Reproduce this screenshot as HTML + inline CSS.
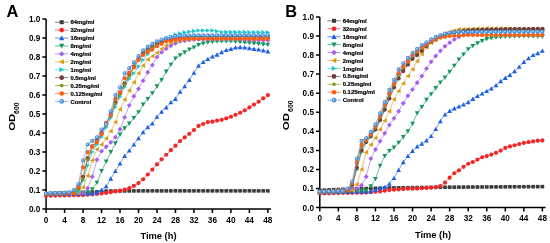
<!DOCTYPE html>
<html><head><meta charset="utf-8"><style>
html,body{margin:0;padding:0;background:#fff;}
body{width:550px;height:243px;overflow:hidden;}
svg{display:block;font-family:"Liberation Sans", sans-serif;filter:blur(0.3px);}
</style></head><body>
<svg width="550" height="243" viewBox="0 0 550 243">
<rect width="550" height="243" fill="#fff"/>
<text x="6.6" y="16.6" font-size="16.4" font-weight="bold">A</text>
<path d="M46.10,19.10V209.10H271.06" fill="none" stroke="#000" stroke-width="1.5"/>
<path d="M42.30,209.10H46.10M42.30,190.10H46.10M42.30,171.10H46.10M42.30,152.10H46.10M42.30,133.10H46.10M42.30,114.10H46.10M42.30,95.10H46.10M42.30,76.10H46.10M42.30,57.10H46.10M42.30,38.10H46.10M42.30,19.10H46.10M46.10,209.10V212.90M64.58,209.10V212.90M83.06,209.10V212.90M101.54,209.10V212.90M120.02,209.10V212.90M138.50,209.10V212.90M156.98,209.10V212.90M175.46,209.10V212.90M193.94,209.10V212.90M212.42,209.10V212.90M230.90,209.10V212.90M249.38,209.10V212.90M267.86,209.10V212.90" fill="none" stroke="#000" stroke-width="1.5"/>
<text x="40.30" y="212.00" font-size="8.2" font-weight="bold" text-anchor="end">0.0</text>
<text x="40.30" y="193.00" font-size="8.2" font-weight="bold" text-anchor="end">0.1</text>
<text x="40.30" y="174.00" font-size="8.2" font-weight="bold" text-anchor="end">0.2</text>
<text x="40.30" y="155.00" font-size="8.2" font-weight="bold" text-anchor="end">0.3</text>
<text x="40.30" y="136.00" font-size="8.2" font-weight="bold" text-anchor="end">0.4</text>
<text x="40.30" y="117.00" font-size="8.2" font-weight="bold" text-anchor="end">0.5</text>
<text x="40.30" y="98.00" font-size="8.2" font-weight="bold" text-anchor="end">0.6</text>
<text x="40.30" y="79.00" font-size="8.2" font-weight="bold" text-anchor="end">0.7</text>
<text x="40.30" y="60.00" font-size="8.2" font-weight="bold" text-anchor="end">0.8</text>
<text x="40.30" y="41.00" font-size="8.2" font-weight="bold" text-anchor="end">0.9</text>
<text x="40.30" y="22.00" font-size="8.2" font-weight="bold" text-anchor="end">1.0</text>
<text x="46.10" y="222.70" font-size="8.2" font-weight="bold" text-anchor="middle">0</text>
<text x="64.58" y="222.70" font-size="8.2" font-weight="bold" text-anchor="middle">4</text>
<text x="83.06" y="222.70" font-size="8.2" font-weight="bold" text-anchor="middle">8</text>
<text x="101.54" y="222.70" font-size="8.2" font-weight="bold" text-anchor="middle">12</text>
<text x="120.02" y="222.70" font-size="8.2" font-weight="bold" text-anchor="middle">16</text>
<text x="138.50" y="222.70" font-size="8.2" font-weight="bold" text-anchor="middle">20</text>
<text x="156.98" y="222.70" font-size="8.2" font-weight="bold" text-anchor="middle">24</text>
<text x="175.46" y="222.70" font-size="8.2" font-weight="bold" text-anchor="middle">28</text>
<text x="193.94" y="222.70" font-size="8.2" font-weight="bold" text-anchor="middle">32</text>
<text x="212.42" y="222.70" font-size="8.2" font-weight="bold" text-anchor="middle">36</text>
<text x="230.90" y="222.70" font-size="8.2" font-weight="bold" text-anchor="middle">40</text>
<text x="249.38" y="222.70" font-size="8.2" font-weight="bold" text-anchor="middle">44</text>
<text x="267.86" y="222.70" font-size="8.2" font-weight="bold" text-anchor="middle">48</text>
<text x="158.50" y="239.20" font-size="9.3" font-weight="bold" text-anchor="middle">Time (h)</text>
<text transform="translate(15.00,130.80) rotate(-90) scale(1.17,1)" font-size="9.8" font-weight="bold">OD</text>
<text transform="translate(19.30,113.90) rotate(-90)" font-size="6.9" font-weight="bold">600</text>
<path d="M55.00,22.20H68.40" stroke="#3c3c3c" stroke-width="0.65"/>
<rect x="59.68" y="20.18" width="4.03" height="4.03" fill="#3c3c3c"/>
<text x="70.40" y="24.30" font-size="5.9" font-weight="bold" stroke="#000" stroke-width="0.2">64mg/ml</text>
<path d="M55.00,30.12H68.40" stroke="#f52525" stroke-width="0.65"/>
<circle cx="61.70" cy="30.12" r="2.35" fill="#f52525"/>
<text x="70.40" y="32.22" font-size="5.9" font-weight="bold" stroke="#000" stroke-width="0.2">32mg/ml</text>
<path d="M55.00,38.04H68.40" stroke="#1c5ee6" stroke-width="0.65"/>
<path d="M61.70,35.41L64.33,40.28L59.07,40.28Z" fill="#1c5ee6"/>
<text x="70.40" y="40.14" font-size="5.9" font-weight="bold" stroke="#000" stroke-width="0.2">16mg/ml</text>
<path d="M55.00,45.96H68.40" stroke="#14965a" stroke-width="0.65"/>
<path d="M61.70,48.59L64.33,43.72L59.07,43.72Z" fill="#14965a"/>
<text x="70.40" y="48.06" font-size="5.9" font-weight="bold" stroke="#000" stroke-width="0.2">8mg/ml</text>
<path d="M55.00,53.88H68.40" stroke="#a65ef0" stroke-width="0.65"/>
<path d="M61.70,51.14L64.44,53.88L61.70,56.62L58.96,53.88Z" fill="#a65ef0"/>
<text x="70.40" y="55.98" font-size="5.9" font-weight="bold" stroke="#000" stroke-width="0.2">4mg/ml</text>
<path d="M55.00,61.80H68.40" stroke="#d99c14" stroke-width="0.65"/>
<path d="M59.07,61.80L63.94,59.17L63.94,64.43Z" fill="#d99c14"/>
<text x="70.40" y="63.90" font-size="5.9" font-weight="bold" stroke="#000" stroke-width="0.2">2mg/ml</text>
<path d="M55.00,69.72H68.40" stroke="#20c6cf" stroke-width="0.65"/>
<path d="M64.33,69.72L59.46,67.09L59.46,72.35Z" fill="#20c6cf"/>
<text x="70.40" y="71.82" font-size="5.9" font-weight="bold" stroke="#000" stroke-width="0.2">1mg/ml</text>
<path d="M55.00,77.64H68.40" stroke="#6f3b3b" stroke-width="0.65"/>
<circle cx="61.70" cy="77.64" r="2.35" fill="#6f3b3b"/>
<text x="70.40" y="79.74" font-size="5.9" font-weight="bold" stroke="#000" stroke-width="0.2">0.5mg/ml</text>
<path d="M55.00,85.56H68.40" stroke="#7f8e1c" stroke-width="0.65"/>
<circle cx="61.70" cy="85.56" r="1.79" fill="#7f8e1c"/>
<text x="70.40" y="87.66" font-size="5.9" font-weight="bold" stroke="#000" stroke-width="0.2">0.25mg/ml</text>
<path d="M55.00,93.48H68.40" stroke="#ff5c12" stroke-width="0.65"/>
<circle cx="61.70" cy="93.48" r="2.35" fill="#ff5c12"/>
<text x="70.40" y="95.58" font-size="5.9" font-weight="bold" stroke="#000" stroke-width="0.2">0.125mg/ml</text>
<path d="M55.00,101.40H68.40" stroke="#4a8edc" stroke-width="0.65"/>
<circle cx="61.70" cy="101.40" r="2.35" fill="#4a8edc"/><circle cx="61.20" cy="101.01" r="0.95" fill="#b4d4f4"/>
<text x="70.40" y="103.50" font-size="5.9" font-weight="bold" stroke="#000" stroke-width="0.2">Control</text>
<path d="M46.10,193.90L50.72,193.76L55.34,193.61L59.96,193.47L64.58,193.33L69.20,193.19L73.82,193.04L78.44,192.90L83.06,192.76L87.68,192.42L92.30,192.08L96.92,191.73L101.54,191.39L106.16,191.05L110.78,191.02L115.40,191.00L120.02,190.97L124.64,190.94L129.26,190.91L133.88,190.89L138.50,190.86L143.12,190.86L147.74,190.86L152.36,190.86L156.98,190.86L161.60,190.86L166.22,190.86L170.84,190.86L175.46,190.86L180.08,190.86L184.70,190.86L189.32,190.86L193.94,190.86L198.56,190.86L203.18,190.86L207.80,190.86L212.42,190.86L217.04,190.86L221.66,190.86L226.28,190.86L230.90,190.86L235.52,190.86L240.14,190.86L244.76,190.86L249.38,190.86L254.00,190.86L258.62,190.86L263.24,190.86L267.86,190.86" fill="none" stroke="#3c3c3c" stroke-width="0.6"/>
<rect x="44.30" y="192.10" width="3.60" height="3.60" fill="#3c3c3c"/><rect x="48.92" y="191.96" width="3.60" height="3.60" fill="#3c3c3c"/><rect x="53.54" y="191.81" width="3.60" height="3.60" fill="#3c3c3c"/><rect x="58.16" y="191.67" width="3.60" height="3.60" fill="#3c3c3c"/><rect x="62.78" y="191.53" width="3.60" height="3.60" fill="#3c3c3c"/><rect x="67.40" y="191.39" width="3.60" height="3.60" fill="#3c3c3c"/><rect x="72.02" y="191.24" width="3.60" height="3.60" fill="#3c3c3c"/><rect x="76.64" y="191.10" width="3.60" height="3.60" fill="#3c3c3c"/><rect x="81.26" y="190.96" width="3.60" height="3.60" fill="#3c3c3c"/><rect x="85.88" y="190.62" width="3.60" height="3.60" fill="#3c3c3c"/><rect x="90.50" y="190.28" width="3.60" height="3.60" fill="#3c3c3c"/><rect x="95.12" y="189.93" width="3.60" height="3.60" fill="#3c3c3c"/><rect x="99.74" y="189.59" width="3.60" height="3.60" fill="#3c3c3c"/><rect x="104.36" y="189.25" width="3.60" height="3.60" fill="#3c3c3c"/><rect x="108.98" y="189.22" width="3.60" height="3.60" fill="#3c3c3c"/><rect x="113.60" y="189.20" width="3.60" height="3.60" fill="#3c3c3c"/><rect x="118.22" y="189.17" width="3.60" height="3.60" fill="#3c3c3c"/><rect x="122.84" y="189.14" width="3.60" height="3.60" fill="#3c3c3c"/><rect x="127.46" y="189.11" width="3.60" height="3.60" fill="#3c3c3c"/><rect x="132.08" y="189.09" width="3.60" height="3.60" fill="#3c3c3c"/><rect x="136.70" y="189.06" width="3.60" height="3.60" fill="#3c3c3c"/><rect x="141.32" y="189.06" width="3.60" height="3.60" fill="#3c3c3c"/><rect x="145.94" y="189.06" width="3.60" height="3.60" fill="#3c3c3c"/><rect x="150.56" y="189.06" width="3.60" height="3.60" fill="#3c3c3c"/><rect x="155.18" y="189.06" width="3.60" height="3.60" fill="#3c3c3c"/><rect x="159.80" y="189.06" width="3.60" height="3.60" fill="#3c3c3c"/><rect x="164.42" y="189.06" width="3.60" height="3.60" fill="#3c3c3c"/><rect x="169.04" y="189.06" width="3.60" height="3.60" fill="#3c3c3c"/><rect x="173.66" y="189.06" width="3.60" height="3.60" fill="#3c3c3c"/><rect x="178.28" y="189.06" width="3.60" height="3.60" fill="#3c3c3c"/><rect x="182.90" y="189.06" width="3.60" height="3.60" fill="#3c3c3c"/><rect x="187.52" y="189.06" width="3.60" height="3.60" fill="#3c3c3c"/><rect x="192.14" y="189.06" width="3.60" height="3.60" fill="#3c3c3c"/><rect x="196.76" y="189.06" width="3.60" height="3.60" fill="#3c3c3c"/><rect x="201.38" y="189.06" width="3.60" height="3.60" fill="#3c3c3c"/><rect x="206.00" y="189.06" width="3.60" height="3.60" fill="#3c3c3c"/><rect x="210.62" y="189.06" width="3.60" height="3.60" fill="#3c3c3c"/><rect x="215.24" y="189.06" width="3.60" height="3.60" fill="#3c3c3c"/><rect x="219.86" y="189.06" width="3.60" height="3.60" fill="#3c3c3c"/><rect x="224.48" y="189.06" width="3.60" height="3.60" fill="#3c3c3c"/><rect x="229.10" y="189.06" width="3.60" height="3.60" fill="#3c3c3c"/><rect x="233.72" y="189.06" width="3.60" height="3.60" fill="#3c3c3c"/><rect x="238.34" y="189.06" width="3.60" height="3.60" fill="#3c3c3c"/><rect x="242.96" y="189.06" width="3.60" height="3.60" fill="#3c3c3c"/><rect x="247.58" y="189.06" width="3.60" height="3.60" fill="#3c3c3c"/><rect x="252.20" y="189.06" width="3.60" height="3.60" fill="#3c3c3c"/><rect x="256.82" y="189.06" width="3.60" height="3.60" fill="#3c3c3c"/><rect x="261.44" y="189.06" width="3.60" height="3.60" fill="#3c3c3c"/><rect x="266.06" y="189.06" width="3.60" height="3.60" fill="#3c3c3c"/>
<path d="M46.10,195.80L50.72,195.70L55.34,195.61L59.96,195.51L64.58,195.42L69.20,195.32L73.82,195.23L78.44,195.13L83.06,195.04L87.68,194.66L92.30,194.28L96.92,193.90L101.54,193.52L106.16,192.95L110.78,192.19L115.40,191.43L120.02,190.67L124.64,189.72L129.26,188.20L133.88,185.92L138.50,183.07L143.12,179.27L147.74,174.52L152.36,169.58L156.98,164.45L161.60,159.32L166.22,154.76L170.84,150.20L175.46,145.64L180.08,141.08L184.70,137.47L189.32,133.86L193.94,130.06L198.56,125.88L203.18,123.98L207.80,122.08L212.42,121.70L217.04,120.56L221.66,119.80L226.28,118.28L230.90,116.76L235.52,114.86L240.14,112.77L244.76,110.30L249.38,107.45L254.00,104.60L258.62,101.75L263.24,98.33L267.86,95.10" fill="none" stroke="#f52525" stroke-width="0.6"/>
<circle cx="46.10" cy="195.80" r="2.10" fill="#f52525"/><circle cx="50.72" cy="195.70" r="2.10" fill="#f52525"/><circle cx="55.34" cy="195.61" r="2.10" fill="#f52525"/><circle cx="59.96" cy="195.51" r="2.10" fill="#f52525"/><circle cx="64.58" cy="195.42" r="2.10" fill="#f52525"/><circle cx="69.20" cy="195.32" r="2.10" fill="#f52525"/><circle cx="73.82" cy="195.23" r="2.10" fill="#f52525"/><circle cx="78.44" cy="195.13" r="2.10" fill="#f52525"/><circle cx="83.06" cy="195.04" r="2.10" fill="#f52525"/><circle cx="87.68" cy="194.66" r="2.10" fill="#f52525"/><circle cx="92.30" cy="194.28" r="2.10" fill="#f52525"/><circle cx="96.92" cy="193.90" r="2.10" fill="#f52525"/><circle cx="101.54" cy="193.52" r="2.10" fill="#f52525"/><circle cx="106.16" cy="192.95" r="2.10" fill="#f52525"/><circle cx="110.78" cy="192.19" r="2.10" fill="#f52525"/><circle cx="115.40" cy="191.43" r="2.10" fill="#f52525"/><circle cx="120.02" cy="190.67" r="2.10" fill="#f52525"/><circle cx="124.64" cy="189.72" r="2.10" fill="#f52525"/><circle cx="129.26" cy="188.20" r="2.10" fill="#f52525"/><circle cx="133.88" cy="185.92" r="2.10" fill="#f52525"/><circle cx="138.50" cy="183.07" r="2.10" fill="#f52525"/><circle cx="143.12" cy="179.27" r="2.10" fill="#f52525"/><circle cx="147.74" cy="174.52" r="2.10" fill="#f52525"/><circle cx="152.36" cy="169.58" r="2.10" fill="#f52525"/><circle cx="156.98" cy="164.45" r="2.10" fill="#f52525"/><circle cx="161.60" cy="159.32" r="2.10" fill="#f52525"/><circle cx="166.22" cy="154.76" r="2.10" fill="#f52525"/><circle cx="170.84" cy="150.20" r="2.10" fill="#f52525"/><circle cx="175.46" cy="145.64" r="2.10" fill="#f52525"/><circle cx="180.08" cy="141.08" r="2.10" fill="#f52525"/><circle cx="184.70" cy="137.47" r="2.10" fill="#f52525"/><circle cx="189.32" cy="133.86" r="2.10" fill="#f52525"/><circle cx="193.94" cy="130.06" r="2.10" fill="#f52525"/><circle cx="198.56" cy="125.88" r="2.10" fill="#f52525"/><circle cx="203.18" cy="123.98" r="2.10" fill="#f52525"/><circle cx="207.80" cy="122.08" r="2.10" fill="#f52525"/><circle cx="212.42" cy="121.70" r="2.10" fill="#f52525"/><circle cx="217.04" cy="120.56" r="2.10" fill="#f52525"/><circle cx="221.66" cy="119.80" r="2.10" fill="#f52525"/><circle cx="226.28" cy="118.28" r="2.10" fill="#f52525"/><circle cx="230.90" cy="116.76" r="2.10" fill="#f52525"/><circle cx="235.52" cy="114.86" r="2.10" fill="#f52525"/><circle cx="240.14" cy="112.77" r="2.10" fill="#f52525"/><circle cx="244.76" cy="110.30" r="2.10" fill="#f52525"/><circle cx="249.38" cy="107.45" r="2.10" fill="#f52525"/><circle cx="254.00" cy="104.60" r="2.10" fill="#f52525"/><circle cx="258.62" cy="101.75" r="2.10" fill="#f52525"/><circle cx="263.24" cy="98.33" r="2.10" fill="#f52525"/><circle cx="267.86" cy="95.10" r="2.10" fill="#f52525"/>
<path d="M46.10,193.90L50.72,193.86L55.34,193.82L59.96,193.79L64.58,193.75L69.20,193.71L73.82,193.67L78.44,193.63L83.06,193.60L87.68,193.56L92.30,193.52L96.92,192.38L101.54,190.10L106.16,186.30L110.78,178.70L115.40,171.10L120.02,163.50L124.64,155.90L129.26,150.58L133.88,144.50L138.50,138.23L143.12,132.15L147.74,127.21L152.36,123.60L156.98,116.76L161.60,111.82L166.22,107.45L170.84,102.32L175.46,98.90L180.08,91.87L184.70,86.36L189.32,79.90L193.94,72.87L198.56,65.65L203.18,62.04L207.80,59.00L212.42,56.53L217.04,54.63L221.66,52.16L226.28,50.07L230.90,48.93L235.52,47.60L240.14,47.22L244.76,47.60L249.38,48.17L254.00,48.93L258.62,49.50L263.24,50.45L267.86,51.40" fill="none" stroke="#1c5ee6" stroke-width="0.6"/>
<path d="M46.10,191.55L48.45,195.90L43.75,195.90Z" fill="#1c5ee6"/><path d="M50.72,191.51L53.07,195.86L48.37,195.86Z" fill="#1c5ee6"/><path d="M55.34,191.47L57.69,195.82L52.99,195.82Z" fill="#1c5ee6"/><path d="M59.96,191.44L62.31,195.78L57.61,195.78Z" fill="#1c5ee6"/><path d="M64.58,191.40L66.93,195.75L62.23,195.75Z" fill="#1c5ee6"/><path d="M69.20,191.36L71.55,195.71L66.85,195.71Z" fill="#1c5ee6"/><path d="M73.82,191.32L76.17,195.67L71.47,195.67Z" fill="#1c5ee6"/><path d="M78.44,191.28L80.79,195.63L76.09,195.63Z" fill="#1c5ee6"/><path d="M83.06,191.25L85.41,195.59L80.71,195.59Z" fill="#1c5ee6"/><path d="M87.68,191.21L90.03,195.56L85.33,195.56Z" fill="#1c5ee6"/><path d="M92.30,191.17L94.65,195.52L89.95,195.52Z" fill="#1c5ee6"/><path d="M96.92,190.03L99.27,194.38L94.57,194.38Z" fill="#1c5ee6"/><path d="M101.54,187.75L103.89,192.10L99.19,192.10Z" fill="#1c5ee6"/><path d="M106.16,183.95L108.51,188.30L103.81,188.30Z" fill="#1c5ee6"/><path d="M110.78,176.35L113.13,180.70L108.43,180.70Z" fill="#1c5ee6"/><path d="M115.40,168.75L117.75,173.10L113.05,173.10Z" fill="#1c5ee6"/><path d="M120.02,161.15L122.37,165.50L117.67,165.50Z" fill="#1c5ee6"/><path d="M124.64,153.55L126.99,157.90L122.29,157.90Z" fill="#1c5ee6"/><path d="M129.26,148.23L131.61,152.58L126.91,152.58Z" fill="#1c5ee6"/><path d="M133.88,142.15L136.23,146.50L131.53,146.50Z" fill="#1c5ee6"/><path d="M138.50,135.88L140.85,140.23L136.15,140.23Z" fill="#1c5ee6"/><path d="M143.12,129.80L145.47,134.15L140.77,134.15Z" fill="#1c5ee6"/><path d="M147.74,124.86L150.09,129.21L145.39,129.21Z" fill="#1c5ee6"/><path d="M152.36,121.25L154.71,125.60L150.01,125.60Z" fill="#1c5ee6"/><path d="M156.98,114.41L159.33,118.76L154.63,118.76Z" fill="#1c5ee6"/><path d="M161.60,109.47L163.95,113.82L159.25,113.82Z" fill="#1c5ee6"/><path d="M166.22,105.10L168.57,109.45L163.87,109.45Z" fill="#1c5ee6"/><path d="M170.84,99.97L173.19,104.32L168.49,104.32Z" fill="#1c5ee6"/><path d="M175.46,96.55L177.81,100.90L173.11,100.90Z" fill="#1c5ee6"/><path d="M180.08,89.52L182.43,93.87L177.73,93.87Z" fill="#1c5ee6"/><path d="M184.70,84.01L187.05,88.36L182.35,88.36Z" fill="#1c5ee6"/><path d="M189.32,77.55L191.67,81.90L186.97,81.90Z" fill="#1c5ee6"/><path d="M193.94,70.52L196.29,74.87L191.59,74.87Z" fill="#1c5ee6"/><path d="M198.56,63.30L200.91,67.65L196.21,67.65Z" fill="#1c5ee6"/><path d="M203.18,59.69L205.53,64.04L200.83,64.04Z" fill="#1c5ee6"/><path d="M207.80,56.65L210.15,61.00L205.45,61.00Z" fill="#1c5ee6"/><path d="M212.42,54.18L214.77,58.53L210.07,58.53Z" fill="#1c5ee6"/><path d="M217.04,52.28L219.39,56.63L214.69,56.63Z" fill="#1c5ee6"/><path d="M221.66,49.81L224.01,54.16L219.31,54.16Z" fill="#1c5ee6"/><path d="M226.28,47.72L228.63,52.07L223.93,52.07Z" fill="#1c5ee6"/><path d="M230.90,46.58L233.25,50.93L228.55,50.93Z" fill="#1c5ee6"/><path d="M235.52,45.25L237.87,49.60L233.17,49.60Z" fill="#1c5ee6"/><path d="M240.14,44.87L242.49,49.22L237.79,49.22Z" fill="#1c5ee6"/><path d="M244.76,45.25L247.11,49.60L242.41,49.60Z" fill="#1c5ee6"/><path d="M249.38,45.82L251.73,50.17L247.03,50.17Z" fill="#1c5ee6"/><path d="M254.00,46.58L256.35,50.93L251.65,50.93Z" fill="#1c5ee6"/><path d="M258.62,47.15L260.97,51.50L256.27,51.50Z" fill="#1c5ee6"/><path d="M263.24,48.10L265.59,52.45L260.89,52.45Z" fill="#1c5ee6"/><path d="M267.86,49.05L270.21,53.40L265.51,53.40Z" fill="#1c5ee6"/>
<path d="M46.10,193.90L50.72,193.73L55.34,193.56L59.96,193.39L64.58,193.22L69.20,193.06L73.82,192.89L78.44,192.72L83.06,192.55L87.68,192.38L92.30,189.15L96.92,182.69L101.54,171.10L106.16,161.60L110.78,152.10L115.40,143.36L120.02,134.62L124.64,128.35L129.26,123.60L133.88,117.90L138.50,112.20L143.12,104.60L147.74,98.90L152.36,93.20L156.98,86.36L161.60,79.90L166.22,71.54L170.84,64.70L175.46,58.43L180.08,55.20L184.70,52.35L189.32,49.50L193.94,47.41L198.56,44.94L203.18,43.42L207.80,42.28L212.42,41.80L217.04,41.33L221.66,41.27L226.28,41.20L230.90,41.14L235.52,41.57L240.14,42.00L244.76,42.42L249.38,42.85L254.00,43.32L258.62,43.80L263.24,44.28L267.86,44.75" fill="none" stroke="#14965a" stroke-width="0.6"/>
<path d="M46.10,196.25L48.45,191.90L43.75,191.90Z" fill="#14965a"/><path d="M50.72,196.08L53.07,191.73L48.37,191.73Z" fill="#14965a"/><path d="M55.34,195.91L57.69,191.56L52.99,191.56Z" fill="#14965a"/><path d="M59.96,195.74L62.31,191.40L57.61,191.40Z" fill="#14965a"/><path d="M64.58,195.57L66.93,191.23L62.23,191.23Z" fill="#14965a"/><path d="M69.20,195.41L71.55,191.06L66.85,191.06Z" fill="#14965a"/><path d="M73.82,195.24L76.17,190.89L71.47,190.89Z" fill="#14965a"/><path d="M78.44,195.07L80.79,190.72L76.09,190.72Z" fill="#14965a"/><path d="M83.06,194.90L85.41,190.55L80.71,190.55Z" fill="#14965a"/><path d="M87.68,194.73L90.03,190.38L85.33,190.38Z" fill="#14965a"/><path d="M92.30,191.50L94.65,187.15L89.95,187.15Z" fill="#14965a"/><path d="M96.92,185.04L99.27,180.69L94.57,180.69Z" fill="#14965a"/><path d="M101.54,173.45L103.89,169.10L99.19,169.10Z" fill="#14965a"/><path d="M106.16,163.95L108.51,159.60L103.81,159.60Z" fill="#14965a"/><path d="M110.78,154.45L113.13,150.10L108.43,150.10Z" fill="#14965a"/><path d="M115.40,145.71L117.75,141.36L113.05,141.36Z" fill="#14965a"/><path d="M120.02,136.97L122.37,132.62L117.67,132.62Z" fill="#14965a"/><path d="M124.64,130.70L126.99,126.35L122.29,126.35Z" fill="#14965a"/><path d="M129.26,125.95L131.61,121.60L126.91,121.60Z" fill="#14965a"/><path d="M133.88,120.25L136.23,115.90L131.53,115.90Z" fill="#14965a"/><path d="M138.50,114.55L140.85,110.20L136.15,110.20Z" fill="#14965a"/><path d="M143.12,106.95L145.47,102.60L140.77,102.60Z" fill="#14965a"/><path d="M147.74,101.25L150.09,96.90L145.39,96.90Z" fill="#14965a"/><path d="M152.36,95.55L154.71,91.20L150.01,91.20Z" fill="#14965a"/><path d="M156.98,88.71L159.33,84.36L154.63,84.36Z" fill="#14965a"/><path d="M161.60,82.25L163.95,77.90L159.25,77.90Z" fill="#14965a"/><path d="M166.22,73.89L168.57,69.54L163.87,69.54Z" fill="#14965a"/><path d="M170.84,67.05L173.19,62.70L168.49,62.70Z" fill="#14965a"/><path d="M175.46,60.78L177.81,56.43L173.11,56.43Z" fill="#14965a"/><path d="M180.08,57.55L182.43,53.20L177.73,53.20Z" fill="#14965a"/><path d="M184.70,54.70L187.05,50.35L182.35,50.35Z" fill="#14965a"/><path d="M189.32,51.85L191.67,47.50L186.97,47.50Z" fill="#14965a"/><path d="M193.94,49.76L196.29,45.41L191.59,45.41Z" fill="#14965a"/><path d="M198.56,47.29L200.91,42.94L196.21,42.94Z" fill="#14965a"/><path d="M203.18,45.77L205.53,41.42L200.83,41.42Z" fill="#14965a"/><path d="M207.80,44.63L210.15,40.28L205.45,40.28Z" fill="#14965a"/><path d="M212.42,44.15L214.77,39.81L210.07,39.81Z" fill="#14965a"/><path d="M217.04,43.68L219.39,39.33L214.69,39.33Z" fill="#14965a"/><path d="M221.66,43.62L224.01,39.27L219.31,39.27Z" fill="#14965a"/><path d="M226.28,43.55L228.63,39.21L223.93,39.21Z" fill="#14965a"/><path d="M230.90,43.49L233.25,39.14L228.55,39.14Z" fill="#14965a"/><path d="M235.52,43.92L237.87,39.57L233.17,39.57Z" fill="#14965a"/><path d="M240.14,44.35L242.49,40.00L237.79,40.00Z" fill="#14965a"/><path d="M244.76,44.77L247.11,40.42L242.41,40.42Z" fill="#14965a"/><path d="M249.38,45.20L251.73,40.85L247.03,40.85Z" fill="#14965a"/><path d="M254.00,45.67L256.35,41.33L251.65,41.33Z" fill="#14965a"/><path d="M258.62,46.15L260.97,41.80L256.27,41.80Z" fill="#14965a"/><path d="M263.24,46.63L265.59,42.28L260.89,42.28Z" fill="#14965a"/><path d="M267.86,47.10L270.21,42.75L265.51,42.75Z" fill="#14965a"/>
<path d="M46.10,193.90L50.72,193.78L55.34,193.66L59.96,193.54L64.58,193.42L69.20,193.31L73.82,193.19L78.44,193.07L83.06,192.95L87.68,188.20L92.30,176.80L96.92,159.70L101.54,151.15L106.16,146.78L110.78,142.22L115.40,137.28L120.02,129.30L124.64,117.33L129.26,105.36L133.88,96.24L138.50,88.83L143.12,80.66L147.74,72.30L152.36,65.08L156.98,57.10L161.60,52.35L166.22,48.74L170.84,45.70L175.46,43.42L180.08,41.33L184.70,40.70L189.32,40.06L193.94,39.43L198.56,39.38L203.18,39.34L207.80,39.29L212.42,39.24L217.04,39.19L221.66,39.14L226.28,39.10L230.90,39.05L235.52,39.22L240.14,39.38L244.76,39.55L249.38,39.72L254.00,39.88L258.62,40.05L263.24,40.21L267.86,40.38" fill="none" stroke="#a65ef0" stroke-width="0.6"/>
<path d="M46.10,191.45L48.55,193.90L46.10,196.35L43.65,193.90Z" fill="#a65ef0"/><path d="M50.72,191.33L53.17,193.78L50.72,196.23L48.27,193.78Z" fill="#a65ef0"/><path d="M55.34,191.21L57.79,193.66L55.34,196.11L52.89,193.66Z" fill="#a65ef0"/><path d="M59.96,191.09L62.41,193.54L59.96,195.99L57.51,193.54Z" fill="#a65ef0"/><path d="M64.58,190.97L67.03,193.42L64.58,195.87L62.13,193.42Z" fill="#a65ef0"/><path d="M69.20,190.86L71.65,193.31L69.20,195.76L66.75,193.31Z" fill="#a65ef0"/><path d="M73.82,190.74L76.27,193.19L73.82,195.64L71.37,193.19Z" fill="#a65ef0"/><path d="M78.44,190.62L80.89,193.07L78.44,195.52L75.99,193.07Z" fill="#a65ef0"/><path d="M83.06,190.50L85.51,192.95L83.06,195.40L80.61,192.95Z" fill="#a65ef0"/><path d="M87.68,185.75L90.13,188.20L87.68,190.65L85.23,188.20Z" fill="#a65ef0"/><path d="M92.30,174.35L94.75,176.80L92.30,179.25L89.85,176.80Z" fill="#a65ef0"/><path d="M96.92,157.25L99.37,159.70L96.92,162.15L94.47,159.70Z" fill="#a65ef0"/><path d="M101.54,148.70L103.99,151.15L101.54,153.60L99.09,151.15Z" fill="#a65ef0"/><path d="M106.16,144.33L108.61,146.78L106.16,149.23L103.71,146.78Z" fill="#a65ef0"/><path d="M110.78,139.77L113.23,142.22L110.78,144.67L108.33,142.22Z" fill="#a65ef0"/><path d="M115.40,134.83L117.85,137.28L115.40,139.73L112.95,137.28Z" fill="#a65ef0"/><path d="M120.02,126.85L122.47,129.30L120.02,131.75L117.57,129.30Z" fill="#a65ef0"/><path d="M124.64,114.88L127.09,117.33L124.64,119.78L122.19,117.33Z" fill="#a65ef0"/><path d="M129.26,102.91L131.71,105.36L129.26,107.81L126.81,105.36Z" fill="#a65ef0"/><path d="M133.88,93.79L136.33,96.24L133.88,98.69L131.43,96.24Z" fill="#a65ef0"/><path d="M138.50,86.38L140.95,88.83L138.50,91.28L136.05,88.83Z" fill="#a65ef0"/><path d="M143.12,78.21L145.57,80.66L143.12,83.11L140.67,80.66Z" fill="#a65ef0"/><path d="M147.74,69.85L150.19,72.30L147.74,74.75L145.29,72.30Z" fill="#a65ef0"/><path d="M152.36,62.63L154.81,65.08L152.36,67.53L149.91,65.08Z" fill="#a65ef0"/><path d="M156.98,54.65L159.43,57.10L156.98,59.55L154.53,57.10Z" fill="#a65ef0"/><path d="M161.60,49.90L164.05,52.35L161.60,54.80L159.15,52.35Z" fill="#a65ef0"/><path d="M166.22,46.29L168.67,48.74L166.22,51.19L163.77,48.74Z" fill="#a65ef0"/><path d="M170.84,43.25L173.29,45.70L170.84,48.15L168.39,45.70Z" fill="#a65ef0"/><path d="M175.46,40.97L177.91,43.42L175.46,45.87L173.01,43.42Z" fill="#a65ef0"/><path d="M180.08,38.88L182.53,41.33L180.08,43.78L177.63,41.33Z" fill="#a65ef0"/><path d="M184.70,38.25L187.15,40.70L184.70,43.15L182.25,40.70Z" fill="#a65ef0"/><path d="M189.32,37.61L191.77,40.06L189.32,42.51L186.87,40.06Z" fill="#a65ef0"/><path d="M193.94,36.98L196.39,39.43L193.94,41.88L191.49,39.43Z" fill="#a65ef0"/><path d="M198.56,36.93L201.01,39.38L198.56,41.83L196.11,39.38Z" fill="#a65ef0"/><path d="M203.18,36.89L205.63,39.34L203.18,41.79L200.73,39.34Z" fill="#a65ef0"/><path d="M207.80,36.84L210.25,39.29L207.80,41.74L205.35,39.29Z" fill="#a65ef0"/><path d="M212.42,36.79L214.87,39.24L212.42,41.69L209.97,39.24Z" fill="#a65ef0"/><path d="M217.04,36.74L219.49,39.19L217.04,41.64L214.59,39.19Z" fill="#a65ef0"/><path d="M221.66,36.69L224.11,39.14L221.66,41.59L219.21,39.14Z" fill="#a65ef0"/><path d="M226.28,36.65L228.73,39.10L226.28,41.55L223.83,39.10Z" fill="#a65ef0"/><path d="M230.90,36.60L233.35,39.05L230.90,41.50L228.45,39.05Z" fill="#a65ef0"/><path d="M235.52,36.77L237.97,39.22L235.52,41.67L233.07,39.22Z" fill="#a65ef0"/><path d="M240.14,36.93L242.59,39.38L240.14,41.83L237.69,39.38Z" fill="#a65ef0"/><path d="M244.76,37.10L247.21,39.55L244.76,42.00L242.31,39.55Z" fill="#a65ef0"/><path d="M249.38,37.27L251.83,39.72L249.38,42.17L246.93,39.72Z" fill="#a65ef0"/><path d="M254.00,37.43L256.45,39.88L254.00,42.33L251.55,39.88Z" fill="#a65ef0"/><path d="M258.62,37.60L261.07,40.05L258.62,42.50L256.17,40.05Z" fill="#a65ef0"/><path d="M263.24,37.76L265.69,40.21L263.24,42.66L260.79,40.21Z" fill="#a65ef0"/><path d="M267.86,37.93L270.31,40.38L267.86,42.83L265.41,40.38Z" fill="#a65ef0"/>
<path d="M46.10,193.90L50.72,193.76L55.34,193.63L59.96,193.49L64.58,193.36L69.20,193.22L73.82,193.09L78.44,192.95L83.06,187.25L87.68,175.85L92.30,160.46L96.92,149.25L101.54,144.50L106.16,138.42L110.78,131.20L115.40,122.08L120.02,109.35L124.64,99.66L129.26,90.54L133.88,82.37L138.50,73.25L143.12,65.65L147.74,59.38L152.36,56.15L156.98,52.73L161.60,48.74L166.22,45.32L170.84,42.85L175.46,41.33L180.08,40.38L184.70,39.43L189.32,39.19L193.94,38.96L198.56,38.72L203.18,38.48L207.80,38.48L212.42,38.48L217.04,38.48L221.66,38.48L226.28,38.48L230.90,38.48L235.52,38.48L240.14,38.48L244.76,38.48L249.38,38.48L254.00,38.48L258.62,38.48L263.24,38.48L267.86,38.48" fill="none" stroke="#d99c14" stroke-width="0.6"/>
<path d="M43.75,193.90L48.10,191.55L48.10,196.25Z" fill="#d99c14"/><path d="M48.37,193.76L52.72,191.41L52.72,196.11Z" fill="#d99c14"/><path d="M52.99,193.63L57.34,191.28L57.34,195.98Z" fill="#d99c14"/><path d="M57.61,193.49L61.96,191.14L61.96,195.84Z" fill="#d99c14"/><path d="M62.23,193.36L66.58,191.01L66.58,195.71Z" fill="#d99c14"/><path d="M66.85,193.22L71.20,190.87L71.20,195.57Z" fill="#d99c14"/><path d="M71.47,193.09L75.82,190.74L75.82,195.44Z" fill="#d99c14"/><path d="M76.09,192.95L80.44,190.60L80.44,195.30Z" fill="#d99c14"/><path d="M80.71,187.25L85.06,184.90L85.06,189.60Z" fill="#d99c14"/><path d="M85.33,175.85L89.68,173.50L89.68,178.20Z" fill="#d99c14"/><path d="M89.95,160.46L94.30,158.11L94.30,162.81Z" fill="#d99c14"/><path d="M94.57,149.25L98.92,146.90L98.92,151.60Z" fill="#d99c14"/><path d="M99.19,144.50L103.54,142.15L103.54,146.85Z" fill="#d99c14"/><path d="M103.81,138.42L108.16,136.07L108.16,140.77Z" fill="#d99c14"/><path d="M108.43,131.20L112.78,128.85L112.78,133.55Z" fill="#d99c14"/><path d="M113.05,122.08L117.40,119.73L117.40,124.43Z" fill="#d99c14"/><path d="M117.67,109.35L122.02,107.00L122.02,111.70Z" fill="#d99c14"/><path d="M122.29,99.66L126.64,97.31L126.64,102.01Z" fill="#d99c14"/><path d="M126.91,90.54L131.26,88.19L131.26,92.89Z" fill="#d99c14"/><path d="M131.53,82.37L135.88,80.02L135.88,84.72Z" fill="#d99c14"/><path d="M136.15,73.25L140.50,70.90L140.50,75.60Z" fill="#d99c14"/><path d="M140.77,65.65L145.12,63.30L145.12,68.00Z" fill="#d99c14"/><path d="M145.39,59.38L149.74,57.03L149.74,61.73Z" fill="#d99c14"/><path d="M150.01,56.15L154.36,53.80L154.36,58.50Z" fill="#d99c14"/><path d="M154.63,52.73L158.98,50.38L158.98,55.08Z" fill="#d99c14"/><path d="M159.25,48.74L163.60,46.39L163.60,51.09Z" fill="#d99c14"/><path d="M163.87,45.32L168.22,42.97L168.22,47.67Z" fill="#d99c14"/><path d="M168.49,42.85L172.84,40.50L172.84,45.20Z" fill="#d99c14"/><path d="M173.11,41.33L177.46,38.98L177.46,43.68Z" fill="#d99c14"/><path d="M177.73,40.38L182.08,38.03L182.08,42.73Z" fill="#d99c14"/><path d="M182.35,39.43L186.70,37.08L186.70,41.78Z" fill="#d99c14"/><path d="M186.97,39.19L191.32,36.84L191.32,41.54Z" fill="#d99c14"/><path d="M191.59,38.96L195.94,36.61L195.94,41.31Z" fill="#d99c14"/><path d="M196.21,38.72L200.56,36.37L200.56,41.07Z" fill="#d99c14"/><path d="M200.83,38.48L205.18,36.13L205.18,40.83Z" fill="#d99c14"/><path d="M205.45,38.48L209.80,36.13L209.80,40.83Z" fill="#d99c14"/><path d="M210.07,38.48L214.42,36.13L214.42,40.83Z" fill="#d99c14"/><path d="M214.69,38.48L219.04,36.13L219.04,40.83Z" fill="#d99c14"/><path d="M219.31,38.48L223.66,36.13L223.66,40.83Z" fill="#d99c14"/><path d="M223.93,38.48L228.28,36.13L228.28,40.83Z" fill="#d99c14"/><path d="M228.55,38.48L232.90,36.13L232.90,40.83Z" fill="#d99c14"/><path d="M233.17,38.48L237.52,36.13L237.52,40.83Z" fill="#d99c14"/><path d="M237.79,38.48L242.14,36.13L242.14,40.83Z" fill="#d99c14"/><path d="M242.41,38.48L246.76,36.13L246.76,40.83Z" fill="#d99c14"/><path d="M247.03,38.48L251.38,36.13L251.38,40.83Z" fill="#d99c14"/><path d="M251.65,38.48L256.00,36.13L256.00,40.83Z" fill="#d99c14"/><path d="M256.27,38.48L260.62,36.13L260.62,40.83Z" fill="#d99c14"/><path d="M260.89,38.48L265.24,36.13L265.24,40.83Z" fill="#d99c14"/><path d="M265.51,38.48L269.86,36.13L269.86,40.83Z" fill="#d99c14"/>
<path d="M46.10,193.90L50.72,193.63L55.34,193.36L59.96,193.09L64.58,192.81L69.20,192.54L73.82,192.27L78.44,192.00L83.06,180.60L87.68,165.59L92.30,152.10L96.92,144.50L101.54,136.90L106.16,127.40L110.78,117.90L115.40,107.07L120.02,97.00L124.64,86.93L129.26,78.95L133.88,73.25L138.50,66.60L143.12,59.95L147.74,54.25L152.36,49.98L156.98,45.70L161.60,42.38L166.22,39.05L170.84,36.86L175.46,34.68L180.08,33.54L184.70,32.40L189.32,31.77L193.94,31.13L198.56,30.50L203.18,30.50L207.80,30.50L212.42,30.50L217.04,31.26L221.66,32.02L226.28,32.06L230.90,32.10L235.52,32.13L240.14,32.17L244.76,32.21L249.38,32.25L254.00,32.29L258.62,32.32L263.24,32.36L267.86,32.40" fill="none" stroke="#20c6cf" stroke-width="0.6"/>
<path d="M48.45,193.90L44.10,191.55L44.10,196.25Z" fill="#20c6cf"/><path d="M53.07,193.63L48.72,191.28L48.72,195.98Z" fill="#20c6cf"/><path d="M57.69,193.36L53.34,191.01L53.34,195.71Z" fill="#20c6cf"/><path d="M62.31,193.09L57.96,190.74L57.96,195.44Z" fill="#20c6cf"/><path d="M66.93,192.81L62.58,190.46L62.58,195.16Z" fill="#20c6cf"/><path d="M71.55,192.54L67.20,190.19L67.20,194.89Z" fill="#20c6cf"/><path d="M76.17,192.27L71.82,189.92L71.82,194.62Z" fill="#20c6cf"/><path d="M80.79,192.00L76.44,189.65L76.44,194.35Z" fill="#20c6cf"/><path d="M85.41,180.60L81.06,178.25L81.06,182.95Z" fill="#20c6cf"/><path d="M90.03,165.59L85.68,163.24L85.68,167.94Z" fill="#20c6cf"/><path d="M94.65,152.10L90.30,149.75L90.30,154.45Z" fill="#20c6cf"/><path d="M99.27,144.50L94.92,142.15L94.92,146.85Z" fill="#20c6cf"/><path d="M103.89,136.90L99.54,134.55L99.54,139.25Z" fill="#20c6cf"/><path d="M108.51,127.40L104.16,125.05L104.16,129.75Z" fill="#20c6cf"/><path d="M113.13,117.90L108.78,115.55L108.78,120.25Z" fill="#20c6cf"/><path d="M117.75,107.07L113.40,104.72L113.40,109.42Z" fill="#20c6cf"/><path d="M122.37,97.00L118.02,94.65L118.02,99.35Z" fill="#20c6cf"/><path d="M126.99,86.93L122.64,84.58L122.64,89.28Z" fill="#20c6cf"/><path d="M131.61,78.95L127.26,76.60L127.26,81.30Z" fill="#20c6cf"/><path d="M136.23,73.25L131.88,70.90L131.88,75.60Z" fill="#20c6cf"/><path d="M140.85,66.60L136.50,64.25L136.50,68.95Z" fill="#20c6cf"/><path d="M145.47,59.95L141.12,57.60L141.12,62.30Z" fill="#20c6cf"/><path d="M150.09,54.25L145.74,51.90L145.74,56.60Z" fill="#20c6cf"/><path d="M154.71,49.98L150.36,47.63L150.36,52.33Z" fill="#20c6cf"/><path d="M159.33,45.70L154.98,43.35L154.98,48.05Z" fill="#20c6cf"/><path d="M163.95,42.38L159.60,40.02L159.60,44.73Z" fill="#20c6cf"/><path d="M168.57,39.05L164.22,36.70L164.22,41.40Z" fill="#20c6cf"/><path d="M173.19,36.86L168.84,34.51L168.84,39.21Z" fill="#20c6cf"/><path d="M177.81,34.68L173.46,32.33L173.46,37.03Z" fill="#20c6cf"/><path d="M182.43,33.54L178.08,31.19L178.08,35.89Z" fill="#20c6cf"/><path d="M187.05,32.40L182.70,30.05L182.70,34.75Z" fill="#20c6cf"/><path d="M191.67,31.77L187.32,29.42L187.32,34.12Z" fill="#20c6cf"/><path d="M196.29,31.13L191.94,28.78L191.94,33.48Z" fill="#20c6cf"/><path d="M200.91,30.50L196.56,28.15L196.56,32.85Z" fill="#20c6cf"/><path d="M205.53,30.50L201.18,28.15L201.18,32.85Z" fill="#20c6cf"/><path d="M210.15,30.50L205.80,28.15L205.80,32.85Z" fill="#20c6cf"/><path d="M214.77,30.50L210.42,28.15L210.42,32.85Z" fill="#20c6cf"/><path d="M219.39,31.26L215.04,28.91L215.04,33.61Z" fill="#20c6cf"/><path d="M224.01,32.02L219.66,29.67L219.66,34.37Z" fill="#20c6cf"/><path d="M228.63,32.06L224.28,29.71L224.28,34.41Z" fill="#20c6cf"/><path d="M233.25,32.10L228.90,29.75L228.90,34.45Z" fill="#20c6cf"/><path d="M237.87,32.13L233.52,29.78L233.52,34.48Z" fill="#20c6cf"/><path d="M242.49,32.17L238.14,29.82L238.14,34.52Z" fill="#20c6cf"/><path d="M247.11,32.21L242.76,29.86L242.76,34.56Z" fill="#20c6cf"/><path d="M251.73,32.25L247.38,29.90L247.38,34.60Z" fill="#20c6cf"/><path d="M256.35,32.29L252.00,29.94L252.00,34.64Z" fill="#20c6cf"/><path d="M260.97,32.32L256.62,29.97L256.62,34.67Z" fill="#20c6cf"/><path d="M265.59,32.36L261.24,30.01L261.24,34.71Z" fill="#20c6cf"/><path d="M270.21,32.40L265.86,30.05L265.86,34.75Z" fill="#20c6cf"/>
<path d="M46.10,193.90L50.72,193.74L55.34,193.58L59.96,193.42L64.58,193.27L69.20,193.11L73.82,192.95L78.44,188.20L83.06,176.80L87.68,158.37L92.30,146.40L96.92,140.70L101.54,133.10L106.16,123.60L110.78,114.10L115.40,102.70L120.02,93.20L124.64,83.70L129.26,74.20L133.88,66.60L138.50,59.00L143.12,53.30L147.74,49.50L152.36,46.65L156.98,43.80L161.60,41.90L166.22,40.00L170.84,39.05L175.46,38.10L180.08,37.62L184.70,37.15L189.32,36.68L193.94,36.20L198.56,36.20L203.18,36.20L207.80,36.20L212.42,36.20L217.04,36.20L221.66,36.20L226.28,36.20L230.90,36.20L235.52,36.20L240.14,36.20L244.76,36.20L249.38,36.20L254.00,36.20L258.62,36.20L263.24,36.20L267.86,36.20" fill="none" stroke="#6f3b3b" stroke-width="0.6"/>
<circle cx="46.10" cy="193.90" r="2.10" fill="#6f3b3b"/><circle cx="50.72" cy="193.74" r="2.10" fill="#6f3b3b"/><circle cx="55.34" cy="193.58" r="2.10" fill="#6f3b3b"/><circle cx="59.96" cy="193.42" r="2.10" fill="#6f3b3b"/><circle cx="64.58" cy="193.27" r="2.10" fill="#6f3b3b"/><circle cx="69.20" cy="193.11" r="2.10" fill="#6f3b3b"/><circle cx="73.82" cy="192.95" r="2.10" fill="#6f3b3b"/><circle cx="78.44" cy="188.20" r="2.10" fill="#6f3b3b"/><circle cx="83.06" cy="176.80" r="2.10" fill="#6f3b3b"/><circle cx="87.68" cy="158.37" r="2.10" fill="#6f3b3b"/><circle cx="92.30" cy="146.40" r="2.10" fill="#6f3b3b"/><circle cx="96.92" cy="140.70" r="2.10" fill="#6f3b3b"/><circle cx="101.54" cy="133.10" r="2.10" fill="#6f3b3b"/><circle cx="106.16" cy="123.60" r="2.10" fill="#6f3b3b"/><circle cx="110.78" cy="114.10" r="2.10" fill="#6f3b3b"/><circle cx="115.40" cy="102.70" r="2.10" fill="#6f3b3b"/><circle cx="120.02" cy="93.20" r="2.10" fill="#6f3b3b"/><circle cx="124.64" cy="83.70" r="2.10" fill="#6f3b3b"/><circle cx="129.26" cy="74.20" r="2.10" fill="#6f3b3b"/><circle cx="133.88" cy="66.60" r="2.10" fill="#6f3b3b"/><circle cx="138.50" cy="59.00" r="2.10" fill="#6f3b3b"/><circle cx="143.12" cy="53.30" r="2.10" fill="#6f3b3b"/><circle cx="147.74" cy="49.50" r="2.10" fill="#6f3b3b"/><circle cx="152.36" cy="46.65" r="2.10" fill="#6f3b3b"/><circle cx="156.98" cy="43.80" r="2.10" fill="#6f3b3b"/><circle cx="161.60" cy="41.90" r="2.10" fill="#6f3b3b"/><circle cx="166.22" cy="40.00" r="2.10" fill="#6f3b3b"/><circle cx="170.84" cy="39.05" r="2.10" fill="#6f3b3b"/><circle cx="175.46" cy="38.10" r="2.10" fill="#6f3b3b"/><circle cx="180.08" cy="37.62" r="2.10" fill="#6f3b3b"/><circle cx="184.70" cy="37.15" r="2.10" fill="#6f3b3b"/><circle cx="189.32" cy="36.68" r="2.10" fill="#6f3b3b"/><circle cx="193.94" cy="36.20" r="2.10" fill="#6f3b3b"/><circle cx="198.56" cy="36.20" r="2.10" fill="#6f3b3b"/><circle cx="203.18" cy="36.20" r="2.10" fill="#6f3b3b"/><circle cx="207.80" cy="36.20" r="2.10" fill="#6f3b3b"/><circle cx="212.42" cy="36.20" r="2.10" fill="#6f3b3b"/><circle cx="217.04" cy="36.20" r="2.10" fill="#6f3b3b"/><circle cx="221.66" cy="36.20" r="2.10" fill="#6f3b3b"/><circle cx="226.28" cy="36.20" r="2.10" fill="#6f3b3b"/><circle cx="230.90" cy="36.20" r="2.10" fill="#6f3b3b"/><circle cx="235.52" cy="36.20" r="2.10" fill="#6f3b3b"/><circle cx="240.14" cy="36.20" r="2.10" fill="#6f3b3b"/><circle cx="244.76" cy="36.20" r="2.10" fill="#6f3b3b"/><circle cx="249.38" cy="36.20" r="2.10" fill="#6f3b3b"/><circle cx="254.00" cy="36.20" r="2.10" fill="#6f3b3b"/><circle cx="258.62" cy="36.20" r="2.10" fill="#6f3b3b"/><circle cx="263.24" cy="36.20" r="2.10" fill="#6f3b3b"/><circle cx="267.86" cy="36.20" r="2.10" fill="#6f3b3b"/>
<path d="M46.10,193.90L50.72,193.74L55.34,193.58L59.96,193.42L64.58,193.27L69.20,193.11L73.82,192.95L78.44,189.15L83.06,178.70L87.68,159.70L92.30,147.35L96.92,141.65L101.54,134.05L106.16,124.55L110.78,115.05L115.40,103.65L120.02,94.15L124.64,84.65L129.26,76.10L133.88,67.55L138.50,59.95L143.12,54.25L147.74,50.45L152.36,47.60L156.98,44.75L161.60,42.85L166.22,40.95L170.84,40.00L175.46,39.05L180.08,38.57L184.70,38.10L189.32,37.62L193.94,37.15L198.56,37.15L203.18,37.15L207.80,37.15L212.42,37.15L217.04,37.15L221.66,37.15L226.28,37.15L230.90,37.15L235.52,37.15L240.14,37.15L244.76,37.15L249.38,37.15L254.00,37.15L258.62,37.15L263.24,37.15L267.86,37.15" fill="none" stroke="#7f8e1c" stroke-width="0.6"/>
<circle cx="46.10" cy="193.90" r="1.60" fill="#7f8e1c"/><circle cx="50.72" cy="193.74" r="1.60" fill="#7f8e1c"/><circle cx="55.34" cy="193.58" r="1.60" fill="#7f8e1c"/><circle cx="59.96" cy="193.42" r="1.60" fill="#7f8e1c"/><circle cx="64.58" cy="193.27" r="1.60" fill="#7f8e1c"/><circle cx="69.20" cy="193.11" r="1.60" fill="#7f8e1c"/><circle cx="73.82" cy="192.95" r="1.60" fill="#7f8e1c"/><circle cx="78.44" cy="189.15" r="1.60" fill="#7f8e1c"/><circle cx="83.06" cy="178.70" r="1.60" fill="#7f8e1c"/><circle cx="87.68" cy="159.70" r="1.60" fill="#7f8e1c"/><circle cx="92.30" cy="147.35" r="1.60" fill="#7f8e1c"/><circle cx="96.92" cy="141.65" r="1.60" fill="#7f8e1c"/><circle cx="101.54" cy="134.05" r="1.60" fill="#7f8e1c"/><circle cx="106.16" cy="124.55" r="1.60" fill="#7f8e1c"/><circle cx="110.78" cy="115.05" r="1.60" fill="#7f8e1c"/><circle cx="115.40" cy="103.65" r="1.60" fill="#7f8e1c"/><circle cx="120.02" cy="94.15" r="1.60" fill="#7f8e1c"/><circle cx="124.64" cy="84.65" r="1.60" fill="#7f8e1c"/><circle cx="129.26" cy="76.10" r="1.60" fill="#7f8e1c"/><circle cx="133.88" cy="67.55" r="1.60" fill="#7f8e1c"/><circle cx="138.50" cy="59.95" r="1.60" fill="#7f8e1c"/><circle cx="143.12" cy="54.25" r="1.60" fill="#7f8e1c"/><circle cx="147.74" cy="50.45" r="1.60" fill="#7f8e1c"/><circle cx="152.36" cy="47.60" r="1.60" fill="#7f8e1c"/><circle cx="156.98" cy="44.75" r="1.60" fill="#7f8e1c"/><circle cx="161.60" cy="42.85" r="1.60" fill="#7f8e1c"/><circle cx="166.22" cy="40.95" r="1.60" fill="#7f8e1c"/><circle cx="170.84" cy="40.00" r="1.60" fill="#7f8e1c"/><circle cx="175.46" cy="39.05" r="1.60" fill="#7f8e1c"/><circle cx="180.08" cy="38.57" r="1.60" fill="#7f8e1c"/><circle cx="184.70" cy="38.10" r="1.60" fill="#7f8e1c"/><circle cx="189.32" cy="37.62" r="1.60" fill="#7f8e1c"/><circle cx="193.94" cy="37.15" r="1.60" fill="#7f8e1c"/><circle cx="198.56" cy="37.15" r="1.60" fill="#7f8e1c"/><circle cx="203.18" cy="37.15" r="1.60" fill="#7f8e1c"/><circle cx="207.80" cy="37.15" r="1.60" fill="#7f8e1c"/><circle cx="212.42" cy="37.15" r="1.60" fill="#7f8e1c"/><circle cx="217.04" cy="37.15" r="1.60" fill="#7f8e1c"/><circle cx="221.66" cy="37.15" r="1.60" fill="#7f8e1c"/><circle cx="226.28" cy="37.15" r="1.60" fill="#7f8e1c"/><circle cx="230.90" cy="37.15" r="1.60" fill="#7f8e1c"/><circle cx="235.52" cy="37.15" r="1.60" fill="#7f8e1c"/><circle cx="240.14" cy="37.15" r="1.60" fill="#7f8e1c"/><circle cx="244.76" cy="37.15" r="1.60" fill="#7f8e1c"/><circle cx="249.38" cy="37.15" r="1.60" fill="#7f8e1c"/><circle cx="254.00" cy="37.15" r="1.60" fill="#7f8e1c"/><circle cx="258.62" cy="37.15" r="1.60" fill="#7f8e1c"/><circle cx="263.24" cy="37.15" r="1.60" fill="#7f8e1c"/><circle cx="267.86" cy="37.15" r="1.60" fill="#7f8e1c"/>
<path d="M46.10,193.90L50.72,193.74L55.34,193.58L59.96,193.42L64.58,193.27L69.20,193.11L73.82,192.95L78.44,186.30L83.06,167.30L87.68,152.10L92.30,146.40L96.92,142.22L101.54,134.24L106.16,122.84L110.78,115.43L115.40,98.90L120.02,92.25L124.64,78.19L129.26,72.49L133.88,67.55L138.50,60.14L143.12,55.01L147.74,51.97L152.36,49.50L156.98,46.27L161.60,43.80L166.22,41.33L170.84,40.57L175.46,39.62L180.08,39.05L184.70,38.67L189.32,38.65L193.94,38.63L198.56,38.61L203.18,38.59L207.80,38.57L212.42,38.56L217.04,38.54L221.66,38.52L226.28,38.50L230.90,38.48L235.52,38.53L240.14,38.57L244.76,38.62L249.38,38.67L254.00,38.72L258.62,38.76L263.24,38.81L267.86,38.86" fill="none" stroke="#ff5c12" stroke-width="0.6"/>
<circle cx="46.10" cy="193.90" r="2.10" fill="#ff5c12"/><circle cx="50.72" cy="193.74" r="2.10" fill="#ff5c12"/><circle cx="55.34" cy="193.58" r="2.10" fill="#ff5c12"/><circle cx="59.96" cy="193.42" r="2.10" fill="#ff5c12"/><circle cx="64.58" cy="193.27" r="2.10" fill="#ff5c12"/><circle cx="69.20" cy="193.11" r="2.10" fill="#ff5c12"/><circle cx="73.82" cy="192.95" r="2.10" fill="#ff5c12"/><circle cx="78.44" cy="186.30" r="2.10" fill="#ff5c12"/><circle cx="83.06" cy="167.30" r="2.10" fill="#ff5c12"/><circle cx="87.68" cy="152.10" r="2.10" fill="#ff5c12"/><circle cx="92.30" cy="146.40" r="2.10" fill="#ff5c12"/><circle cx="96.92" cy="142.22" r="2.10" fill="#ff5c12"/><circle cx="101.54" cy="134.24" r="2.10" fill="#ff5c12"/><circle cx="106.16" cy="122.84" r="2.10" fill="#ff5c12"/><circle cx="110.78" cy="115.43" r="2.10" fill="#ff5c12"/><circle cx="115.40" cy="98.90" r="2.10" fill="#ff5c12"/><circle cx="120.02" cy="92.25" r="2.10" fill="#ff5c12"/><circle cx="124.64" cy="78.19" r="2.10" fill="#ff5c12"/><circle cx="129.26" cy="72.49" r="2.10" fill="#ff5c12"/><circle cx="133.88" cy="67.55" r="2.10" fill="#ff5c12"/><circle cx="138.50" cy="60.14" r="2.10" fill="#ff5c12"/><circle cx="143.12" cy="55.01" r="2.10" fill="#ff5c12"/><circle cx="147.74" cy="51.97" r="2.10" fill="#ff5c12"/><circle cx="152.36" cy="49.50" r="2.10" fill="#ff5c12"/><circle cx="156.98" cy="46.27" r="2.10" fill="#ff5c12"/><circle cx="161.60" cy="43.80" r="2.10" fill="#ff5c12"/><circle cx="166.22" cy="41.33" r="2.10" fill="#ff5c12"/><circle cx="170.84" cy="40.57" r="2.10" fill="#ff5c12"/><circle cx="175.46" cy="39.62" r="2.10" fill="#ff5c12"/><circle cx="180.08" cy="39.05" r="2.10" fill="#ff5c12"/><circle cx="184.70" cy="38.67" r="2.10" fill="#ff5c12"/><circle cx="189.32" cy="38.65" r="2.10" fill="#ff5c12"/><circle cx="193.94" cy="38.63" r="2.10" fill="#ff5c12"/><circle cx="198.56" cy="38.61" r="2.10" fill="#ff5c12"/><circle cx="203.18" cy="38.59" r="2.10" fill="#ff5c12"/><circle cx="207.80" cy="38.57" r="2.10" fill="#ff5c12"/><circle cx="212.42" cy="38.56" r="2.10" fill="#ff5c12"/><circle cx="217.04" cy="38.54" r="2.10" fill="#ff5c12"/><circle cx="221.66" cy="38.52" r="2.10" fill="#ff5c12"/><circle cx="226.28" cy="38.50" r="2.10" fill="#ff5c12"/><circle cx="230.90" cy="38.48" r="2.10" fill="#ff5c12"/><circle cx="235.52" cy="38.53" r="2.10" fill="#ff5c12"/><circle cx="240.14" cy="38.57" r="2.10" fill="#ff5c12"/><circle cx="244.76" cy="38.62" r="2.10" fill="#ff5c12"/><circle cx="249.38" cy="38.67" r="2.10" fill="#ff5c12"/><circle cx="254.00" cy="38.72" r="2.10" fill="#ff5c12"/><circle cx="258.62" cy="38.76" r="2.10" fill="#ff5c12"/><circle cx="263.24" cy="38.81" r="2.10" fill="#ff5c12"/><circle cx="267.86" cy="38.86" r="2.10" fill="#ff5c12"/>
<path d="M46.10,193.52L50.72,193.29L55.34,193.06L59.96,192.84L64.58,192.61L69.20,192.38L73.82,190.10L78.44,184.02L83.06,160.46L87.68,144.50L92.30,140.89L96.92,137.28L101.54,129.49L106.16,124.55L110.78,111.25L115.40,95.10L120.02,87.31L124.64,73.25L129.26,68.12L133.88,62.42L138.50,56.15L143.12,50.45L147.74,46.65L152.36,43.80L156.98,41.33L161.60,39.62L166.22,38.10L170.84,37.15L175.46,36.20L180.08,35.63L184.70,35.57L189.32,35.50L193.94,35.44L198.56,35.44L203.18,35.44L207.80,35.44L212.42,35.44L217.04,35.44L221.66,35.44L226.28,35.44L230.90,35.44L235.52,35.42L240.14,35.39L244.76,35.37L249.38,35.34L254.00,35.32L258.62,35.30L263.24,35.27L267.86,35.25" fill="none" stroke="#4a8edc" stroke-width="0.6"/>
<circle cx="46.10" cy="193.52" r="2.10" fill="#4a8edc"/><circle cx="45.65" cy="193.17" r="0.85" fill="#b4d4f4"/><circle cx="50.72" cy="193.29" r="2.10" fill="#4a8edc"/><circle cx="50.27" cy="192.94" r="0.85" fill="#b4d4f4"/><circle cx="55.34" cy="193.06" r="2.10" fill="#4a8edc"/><circle cx="54.89" cy="192.71" r="0.85" fill="#b4d4f4"/><circle cx="59.96" cy="192.84" r="2.10" fill="#4a8edc"/><circle cx="59.51" cy="192.49" r="0.85" fill="#b4d4f4"/><circle cx="64.58" cy="192.61" r="2.10" fill="#4a8edc"/><circle cx="64.13" cy="192.26" r="0.85" fill="#b4d4f4"/><circle cx="69.20" cy="192.38" r="2.10" fill="#4a8edc"/><circle cx="68.75" cy="192.03" r="0.85" fill="#b4d4f4"/><circle cx="73.82" cy="190.10" r="2.10" fill="#4a8edc"/><circle cx="73.37" cy="189.75" r="0.85" fill="#b4d4f4"/><circle cx="78.44" cy="184.02" r="2.10" fill="#4a8edc"/><circle cx="77.99" cy="183.67" r="0.85" fill="#b4d4f4"/><circle cx="83.06" cy="160.46" r="2.10" fill="#4a8edc"/><circle cx="82.61" cy="160.11" r="0.85" fill="#b4d4f4"/><circle cx="87.68" cy="144.50" r="2.10" fill="#4a8edc"/><circle cx="87.23" cy="144.15" r="0.85" fill="#b4d4f4"/><circle cx="92.30" cy="140.89" r="2.10" fill="#4a8edc"/><circle cx="91.85" cy="140.54" r="0.85" fill="#b4d4f4"/><circle cx="96.92" cy="137.28" r="2.10" fill="#4a8edc"/><circle cx="96.47" cy="136.93" r="0.85" fill="#b4d4f4"/><circle cx="101.54" cy="129.49" r="2.10" fill="#4a8edc"/><circle cx="101.09" cy="129.14" r="0.85" fill="#b4d4f4"/><circle cx="106.16" cy="124.55" r="2.10" fill="#4a8edc"/><circle cx="105.71" cy="124.20" r="0.85" fill="#b4d4f4"/><circle cx="110.78" cy="111.25" r="2.10" fill="#4a8edc"/><circle cx="110.33" cy="110.90" r="0.85" fill="#b4d4f4"/><circle cx="115.40" cy="95.10" r="2.10" fill="#4a8edc"/><circle cx="114.95" cy="94.75" r="0.85" fill="#b4d4f4"/><circle cx="120.02" cy="87.31" r="2.10" fill="#4a8edc"/><circle cx="119.57" cy="86.96" r="0.85" fill="#b4d4f4"/><circle cx="124.64" cy="73.25" r="2.10" fill="#4a8edc"/><circle cx="124.19" cy="72.90" r="0.85" fill="#b4d4f4"/><circle cx="129.26" cy="68.12" r="2.10" fill="#4a8edc"/><circle cx="128.81" cy="67.77" r="0.85" fill="#b4d4f4"/><circle cx="133.88" cy="62.42" r="2.10" fill="#4a8edc"/><circle cx="133.43" cy="62.07" r="0.85" fill="#b4d4f4"/><circle cx="138.50" cy="56.15" r="2.10" fill="#4a8edc"/><circle cx="138.05" cy="55.80" r="0.85" fill="#b4d4f4"/><circle cx="143.12" cy="50.45" r="2.10" fill="#4a8edc"/><circle cx="142.67" cy="50.10" r="0.85" fill="#b4d4f4"/><circle cx="147.74" cy="46.65" r="2.10" fill="#4a8edc"/><circle cx="147.29" cy="46.30" r="0.85" fill="#b4d4f4"/><circle cx="152.36" cy="43.80" r="2.10" fill="#4a8edc"/><circle cx="151.91" cy="43.45" r="0.85" fill="#b4d4f4"/><circle cx="156.98" cy="41.33" r="2.10" fill="#4a8edc"/><circle cx="156.53" cy="40.98" r="0.85" fill="#b4d4f4"/><circle cx="161.60" cy="39.62" r="2.10" fill="#4a8edc"/><circle cx="161.15" cy="39.27" r="0.85" fill="#b4d4f4"/><circle cx="166.22" cy="38.10" r="2.10" fill="#4a8edc"/><circle cx="165.77" cy="37.75" r="0.85" fill="#b4d4f4"/><circle cx="170.84" cy="37.15" r="2.10" fill="#4a8edc"/><circle cx="170.39" cy="36.80" r="0.85" fill="#b4d4f4"/><circle cx="175.46" cy="36.20" r="2.10" fill="#4a8edc"/><circle cx="175.01" cy="35.85" r="0.85" fill="#b4d4f4"/><circle cx="180.08" cy="35.63" r="2.10" fill="#4a8edc"/><circle cx="179.63" cy="35.28" r="0.85" fill="#b4d4f4"/><circle cx="184.70" cy="35.57" r="2.10" fill="#4a8edc"/><circle cx="184.25" cy="35.22" r="0.85" fill="#b4d4f4"/><circle cx="189.32" cy="35.50" r="2.10" fill="#4a8edc"/><circle cx="188.87" cy="35.15" r="0.85" fill="#b4d4f4"/><circle cx="193.94" cy="35.44" r="2.10" fill="#4a8edc"/><circle cx="193.49" cy="35.09" r="0.85" fill="#b4d4f4"/><circle cx="198.56" cy="35.44" r="2.10" fill="#4a8edc"/><circle cx="198.11" cy="35.09" r="0.85" fill="#b4d4f4"/><circle cx="203.18" cy="35.44" r="2.10" fill="#4a8edc"/><circle cx="202.73" cy="35.09" r="0.85" fill="#b4d4f4"/><circle cx="207.80" cy="35.44" r="2.10" fill="#4a8edc"/><circle cx="207.35" cy="35.09" r="0.85" fill="#b4d4f4"/><circle cx="212.42" cy="35.44" r="2.10" fill="#4a8edc"/><circle cx="211.97" cy="35.09" r="0.85" fill="#b4d4f4"/><circle cx="217.04" cy="35.44" r="2.10" fill="#4a8edc"/><circle cx="216.59" cy="35.09" r="0.85" fill="#b4d4f4"/><circle cx="221.66" cy="35.44" r="2.10" fill="#4a8edc"/><circle cx="221.21" cy="35.09" r="0.85" fill="#b4d4f4"/><circle cx="226.28" cy="35.44" r="2.10" fill="#4a8edc"/><circle cx="225.83" cy="35.09" r="0.85" fill="#b4d4f4"/><circle cx="230.90" cy="35.44" r="2.10" fill="#4a8edc"/><circle cx="230.45" cy="35.09" r="0.85" fill="#b4d4f4"/><circle cx="235.52" cy="35.42" r="2.10" fill="#4a8edc"/><circle cx="235.07" cy="35.07" r="0.85" fill="#b4d4f4"/><circle cx="240.14" cy="35.39" r="2.10" fill="#4a8edc"/><circle cx="239.69" cy="35.04" r="0.85" fill="#b4d4f4"/><circle cx="244.76" cy="35.37" r="2.10" fill="#4a8edc"/><circle cx="244.31" cy="35.02" r="0.85" fill="#b4d4f4"/><circle cx="249.38" cy="35.34" r="2.10" fill="#4a8edc"/><circle cx="248.93" cy="34.99" r="0.85" fill="#b4d4f4"/><circle cx="254.00" cy="35.32" r="2.10" fill="#4a8edc"/><circle cx="253.55" cy="34.97" r="0.85" fill="#b4d4f4"/><circle cx="258.62" cy="35.30" r="2.10" fill="#4a8edc"/><circle cx="258.17" cy="34.95" r="0.85" fill="#b4d4f4"/><circle cx="263.24" cy="35.27" r="2.10" fill="#4a8edc"/><circle cx="262.79" cy="34.92" r="0.85" fill="#b4d4f4"/><circle cx="267.86" cy="35.25" r="2.10" fill="#4a8edc"/><circle cx="267.41" cy="34.90" r="0.85" fill="#b4d4f4"/>
<text x="285.2" y="16.6" font-size="16.4" font-weight="bold">B</text>
<path d="M319.80,16.90V207.60H545.60" fill="none" stroke="#000" stroke-width="1.5"/>
<path d="M316.00,207.60H319.80M316.00,188.53H319.80M316.00,169.46H319.80M316.00,150.39H319.80M316.00,131.32H319.80M316.00,112.25H319.80M316.00,93.18H319.80M316.00,74.11H319.80M316.00,55.04H319.80M316.00,35.97H319.80M316.00,16.90H319.80M319.80,207.60V211.40M338.35,207.60V211.40M356.90,207.60V211.40M375.45,207.60V211.40M394.00,207.60V211.40M412.55,207.60V211.40M431.10,207.60V211.40M449.65,207.60V211.40M468.20,207.60V211.40M486.75,207.60V211.40M505.30,207.60V211.40M523.85,207.60V211.40M542.40,207.60V211.40" fill="none" stroke="#000" stroke-width="1.5"/>
<text x="314.00" y="210.50" font-size="8.2" font-weight="bold" text-anchor="end">0.0</text>
<text x="314.00" y="191.43" font-size="8.2" font-weight="bold" text-anchor="end">0.1</text>
<text x="314.00" y="172.36" font-size="8.2" font-weight="bold" text-anchor="end">0.2</text>
<text x="314.00" y="153.29" font-size="8.2" font-weight="bold" text-anchor="end">0.3</text>
<text x="314.00" y="134.22" font-size="8.2" font-weight="bold" text-anchor="end">0.4</text>
<text x="314.00" y="115.15" font-size="8.2" font-weight="bold" text-anchor="end">0.5</text>
<text x="314.00" y="96.08" font-size="8.2" font-weight="bold" text-anchor="end">0.6</text>
<text x="314.00" y="77.01" font-size="8.2" font-weight="bold" text-anchor="end">0.7</text>
<text x="314.00" y="57.94" font-size="8.2" font-weight="bold" text-anchor="end">0.8</text>
<text x="314.00" y="38.87" font-size="8.2" font-weight="bold" text-anchor="end">0.9</text>
<text x="314.00" y="19.80" font-size="8.2" font-weight="bold" text-anchor="end">1.0</text>
<text x="319.80" y="221.20" font-size="8.2" font-weight="bold" text-anchor="middle">0</text>
<text x="338.35" y="221.20" font-size="8.2" font-weight="bold" text-anchor="middle">4</text>
<text x="356.90" y="221.20" font-size="8.2" font-weight="bold" text-anchor="middle">8</text>
<text x="375.45" y="221.20" font-size="8.2" font-weight="bold" text-anchor="middle">12</text>
<text x="394.00" y="221.20" font-size="8.2" font-weight="bold" text-anchor="middle">16</text>
<text x="412.55" y="221.20" font-size="8.2" font-weight="bold" text-anchor="middle">20</text>
<text x="431.10" y="221.20" font-size="8.2" font-weight="bold" text-anchor="middle">24</text>
<text x="449.65" y="221.20" font-size="8.2" font-weight="bold" text-anchor="middle">28</text>
<text x="468.20" y="221.20" font-size="8.2" font-weight="bold" text-anchor="middle">32</text>
<text x="486.75" y="221.20" font-size="8.2" font-weight="bold" text-anchor="middle">36</text>
<text x="505.30" y="221.20" font-size="8.2" font-weight="bold" text-anchor="middle">40</text>
<text x="523.85" y="221.20" font-size="8.2" font-weight="bold" text-anchor="middle">44</text>
<text x="542.40" y="221.20" font-size="8.2" font-weight="bold" text-anchor="middle">48</text>
<text x="433.00" y="237.60" font-size="9.3" font-weight="bold" text-anchor="middle">Time (h)</text>
<text transform="translate(288.60,130.20) rotate(-90) scale(1.17,1)" font-size="9.8" font-weight="bold">OD</text>
<text transform="translate(292.50,111.90) rotate(-90)" font-size="6.9" font-weight="bold">600</text>
<path d="M327.30,20.80H340.70" stroke="#3c3c3c" stroke-width="0.65"/>
<rect x="331.98" y="18.78" width="4.03" height="4.03" fill="#3c3c3c"/>
<text x="342.70" y="22.90" font-size="5.9" font-weight="bold" stroke="#000" stroke-width="0.2">64mg/ml</text>
<path d="M327.30,28.74H340.70" stroke="#f52525" stroke-width="0.65"/>
<circle cx="334.00" cy="28.74" r="2.35" fill="#f52525"/>
<text x="342.70" y="30.84" font-size="5.9" font-weight="bold" stroke="#000" stroke-width="0.2">32mg/ml</text>
<path d="M327.30,36.68H340.70" stroke="#1c5ee6" stroke-width="0.65"/>
<path d="M334.00,34.05L336.63,38.92L331.37,38.92Z" fill="#1c5ee6"/>
<text x="342.70" y="38.78" font-size="5.9" font-weight="bold" stroke="#000" stroke-width="0.2">16mg/ml</text>
<path d="M327.30,44.62H340.70" stroke="#14965a" stroke-width="0.65"/>
<path d="M334.00,47.25L336.63,42.38L331.37,42.38Z" fill="#14965a"/>
<text x="342.70" y="46.72" font-size="5.9" font-weight="bold" stroke="#000" stroke-width="0.2">8mg/ml</text>
<path d="M327.30,52.56H340.70" stroke="#a65ef0" stroke-width="0.65"/>
<path d="M334.00,49.82L336.74,52.56L334.00,55.30L331.26,52.56Z" fill="#a65ef0"/>
<text x="342.70" y="54.66" font-size="5.9" font-weight="bold" stroke="#000" stroke-width="0.2">4mg/ml</text>
<path d="M327.30,60.50H340.70" stroke="#d99c14" stroke-width="0.65"/>
<path d="M331.37,60.50L336.24,57.87L336.24,63.13Z" fill="#d99c14"/>
<text x="342.70" y="62.60" font-size="5.9" font-weight="bold" stroke="#000" stroke-width="0.2">2mg/ml</text>
<path d="M327.30,68.44H340.70" stroke="#20c6cf" stroke-width="0.65"/>
<path d="M336.63,68.44L331.76,65.81L331.76,71.07Z" fill="#20c6cf"/>
<text x="342.70" y="70.54" font-size="5.9" font-weight="bold" stroke="#000" stroke-width="0.2">1mg/ml</text>
<path d="M327.30,76.38H340.70" stroke="#6f3b3b" stroke-width="0.65"/>
<circle cx="334.00" cy="76.38" r="2.35" fill="#6f3b3b"/>
<text x="342.70" y="78.48" font-size="5.9" font-weight="bold" stroke="#000" stroke-width="0.2">0.5mg/ml</text>
<path d="M327.30,84.32H340.70" stroke="#7f8e1c" stroke-width="0.65"/>
<circle cx="334.00" cy="84.32" r="1.79" fill="#7f8e1c"/>
<text x="342.70" y="86.42" font-size="5.9" font-weight="bold" stroke="#000" stroke-width="0.2">0.25mg/ml</text>
<path d="M327.30,92.26H340.70" stroke="#ff5c12" stroke-width="0.65"/>
<circle cx="334.00" cy="92.26" r="2.35" fill="#ff5c12"/>
<text x="342.70" y="94.36" font-size="5.9" font-weight="bold" stroke="#000" stroke-width="0.2">0.125mg/ml</text>
<path d="M327.30,100.20H340.70" stroke="#4a8edc" stroke-width="0.65"/>
<circle cx="334.00" cy="100.20" r="2.35" fill="#4a8edc"/><circle cx="333.50" cy="99.81" r="0.95" fill="#b4d4f4"/>
<text x="342.70" y="102.30" font-size="5.9" font-weight="bold" stroke="#000" stroke-width="0.2">Control</text>
<path d="M319.80,190.25L324.44,190.06L329.07,189.86L333.71,189.67L338.35,189.48L342.99,189.29L347.62,189.14L352.26,188.99L356.90,188.84L361.54,188.68L366.18,188.53L370.81,188.42L375.45,188.30L380.09,188.19L384.73,188.07L389.36,187.96L394.00,187.89L398.64,187.83L403.28,187.77L407.91,187.70L412.55,187.64L417.19,187.58L421.83,187.51L426.46,187.45L431.10,187.39L435.74,187.32L440.38,187.26L445.01,187.20L449.65,187.17L454.29,187.14L458.93,187.11L463.56,187.09L468.20,187.06L472.84,187.03L477.48,187.00L482.11,186.98L486.75,186.95L491.39,186.92L496.02,186.90L500.66,186.87L505.30,186.84L509.94,186.81L514.58,186.79L519.21,186.76L523.85,186.73L528.49,186.70L533.12,186.68L537.76,186.65L542.40,186.62" fill="none" stroke="#3c3c3c" stroke-width="0.6"/>
<rect x="318.00" y="188.45" width="3.60" height="3.60" fill="#3c3c3c"/><rect x="322.64" y="188.26" width="3.60" height="3.60" fill="#3c3c3c"/><rect x="327.27" y="188.06" width="3.60" height="3.60" fill="#3c3c3c"/><rect x="331.91" y="187.87" width="3.60" height="3.60" fill="#3c3c3c"/><rect x="336.55" y="187.68" width="3.60" height="3.60" fill="#3c3c3c"/><rect x="341.19" y="187.49" width="3.60" height="3.60" fill="#3c3c3c"/><rect x="345.82" y="187.34" width="3.60" height="3.60" fill="#3c3c3c"/><rect x="350.46" y="187.19" width="3.60" height="3.60" fill="#3c3c3c"/><rect x="355.10" y="187.04" width="3.60" height="3.60" fill="#3c3c3c"/><rect x="359.74" y="186.88" width="3.60" height="3.60" fill="#3c3c3c"/><rect x="364.38" y="186.73" width="3.60" height="3.60" fill="#3c3c3c"/><rect x="369.01" y="186.62" width="3.60" height="3.60" fill="#3c3c3c"/><rect x="373.65" y="186.50" width="3.60" height="3.60" fill="#3c3c3c"/><rect x="378.29" y="186.39" width="3.60" height="3.60" fill="#3c3c3c"/><rect x="382.93" y="186.27" width="3.60" height="3.60" fill="#3c3c3c"/><rect x="387.56" y="186.16" width="3.60" height="3.60" fill="#3c3c3c"/><rect x="392.20" y="186.09" width="3.60" height="3.60" fill="#3c3c3c"/><rect x="396.84" y="186.03" width="3.60" height="3.60" fill="#3c3c3c"/><rect x="401.48" y="185.97" width="3.60" height="3.60" fill="#3c3c3c"/><rect x="406.11" y="185.90" width="3.60" height="3.60" fill="#3c3c3c"/><rect x="410.75" y="185.84" width="3.60" height="3.60" fill="#3c3c3c"/><rect x="415.39" y="185.78" width="3.60" height="3.60" fill="#3c3c3c"/><rect x="420.03" y="185.71" width="3.60" height="3.60" fill="#3c3c3c"/><rect x="424.66" y="185.65" width="3.60" height="3.60" fill="#3c3c3c"/><rect x="429.30" y="185.59" width="3.60" height="3.60" fill="#3c3c3c"/><rect x="433.94" y="185.52" width="3.60" height="3.60" fill="#3c3c3c"/><rect x="438.57" y="185.46" width="3.60" height="3.60" fill="#3c3c3c"/><rect x="443.21" y="185.40" width="3.60" height="3.60" fill="#3c3c3c"/><rect x="447.85" y="185.37" width="3.60" height="3.60" fill="#3c3c3c"/><rect x="452.49" y="185.34" width="3.60" height="3.60" fill="#3c3c3c"/><rect x="457.12" y="185.31" width="3.60" height="3.60" fill="#3c3c3c"/><rect x="461.76" y="185.29" width="3.60" height="3.60" fill="#3c3c3c"/><rect x="466.40" y="185.26" width="3.60" height="3.60" fill="#3c3c3c"/><rect x="471.04" y="185.23" width="3.60" height="3.60" fill="#3c3c3c"/><rect x="475.68" y="185.20" width="3.60" height="3.60" fill="#3c3c3c"/><rect x="480.31" y="185.18" width="3.60" height="3.60" fill="#3c3c3c"/><rect x="484.95" y="185.15" width="3.60" height="3.60" fill="#3c3c3c"/><rect x="489.59" y="185.12" width="3.60" height="3.60" fill="#3c3c3c"/><rect x="494.22" y="185.10" width="3.60" height="3.60" fill="#3c3c3c"/><rect x="498.86" y="185.07" width="3.60" height="3.60" fill="#3c3c3c"/><rect x="503.50" y="185.04" width="3.60" height="3.60" fill="#3c3c3c"/><rect x="508.14" y="185.01" width="3.60" height="3.60" fill="#3c3c3c"/><rect x="512.78" y="184.99" width="3.60" height="3.60" fill="#3c3c3c"/><rect x="517.41" y="184.96" width="3.60" height="3.60" fill="#3c3c3c"/><rect x="522.05" y="184.93" width="3.60" height="3.60" fill="#3c3c3c"/><rect x="526.69" y="184.90" width="3.60" height="3.60" fill="#3c3c3c"/><rect x="531.33" y="184.88" width="3.60" height="3.60" fill="#3c3c3c"/><rect x="535.96" y="184.85" width="3.60" height="3.60" fill="#3c3c3c"/><rect x="540.60" y="184.82" width="3.60" height="3.60" fill="#3c3c3c"/>
<path d="M319.80,193.49L324.44,193.39L329.07,193.30L333.71,193.20L338.35,193.11L342.99,193.01L347.62,192.92L352.26,192.82L356.90,192.73L361.54,192.63L366.18,192.53L370.81,192.15L375.45,191.77L380.09,191.39L384.73,190.72L389.36,190.06L394.00,189.77L398.64,189.48L403.28,189.10L407.91,188.72L412.55,188.63L417.19,188.53L421.83,188.24L426.46,187.96L431.10,187.58L435.74,187.20L440.38,186.05L445.01,182.62L449.65,177.66L454.29,173.27L458.93,170.41L463.56,166.79L468.20,163.74L472.84,162.02L477.48,159.54L482.11,157.26L486.75,156.11L491.39,154.59L496.02,152.87L500.66,150.58L505.30,147.91L509.94,146.39L514.58,145.24L519.21,144.10L523.85,142.95L528.49,142.19L533.12,141.43L537.76,140.66L542.40,140.47" fill="none" stroke="#f52525" stroke-width="0.6"/>
<circle cx="319.80" cy="193.49" r="2.10" fill="#f52525"/><circle cx="324.44" cy="193.39" r="2.10" fill="#f52525"/><circle cx="329.07" cy="193.30" r="2.10" fill="#f52525"/><circle cx="333.71" cy="193.20" r="2.10" fill="#f52525"/><circle cx="338.35" cy="193.11" r="2.10" fill="#f52525"/><circle cx="342.99" cy="193.01" r="2.10" fill="#f52525"/><circle cx="347.62" cy="192.92" r="2.10" fill="#f52525"/><circle cx="352.26" cy="192.82" r="2.10" fill="#f52525"/><circle cx="356.90" cy="192.73" r="2.10" fill="#f52525"/><circle cx="361.54" cy="192.63" r="2.10" fill="#f52525"/><circle cx="366.18" cy="192.53" r="2.10" fill="#f52525"/><circle cx="370.81" cy="192.15" r="2.10" fill="#f52525"/><circle cx="375.45" cy="191.77" r="2.10" fill="#f52525"/><circle cx="380.09" cy="191.39" r="2.10" fill="#f52525"/><circle cx="384.73" cy="190.72" r="2.10" fill="#f52525"/><circle cx="389.36" cy="190.06" r="2.10" fill="#f52525"/><circle cx="394.00" cy="189.77" r="2.10" fill="#f52525"/><circle cx="398.64" cy="189.48" r="2.10" fill="#f52525"/><circle cx="403.28" cy="189.10" r="2.10" fill="#f52525"/><circle cx="407.91" cy="188.72" r="2.10" fill="#f52525"/><circle cx="412.55" cy="188.63" r="2.10" fill="#f52525"/><circle cx="417.19" cy="188.53" r="2.10" fill="#f52525"/><circle cx="421.83" cy="188.24" r="2.10" fill="#f52525"/><circle cx="426.46" cy="187.96" r="2.10" fill="#f52525"/><circle cx="431.10" cy="187.58" r="2.10" fill="#f52525"/><circle cx="435.74" cy="187.20" r="2.10" fill="#f52525"/><circle cx="440.38" cy="186.05" r="2.10" fill="#f52525"/><circle cx="445.01" cy="182.62" r="2.10" fill="#f52525"/><circle cx="449.65" cy="177.66" r="2.10" fill="#f52525"/><circle cx="454.29" cy="173.27" r="2.10" fill="#f52525"/><circle cx="458.93" cy="170.41" r="2.10" fill="#f52525"/><circle cx="463.56" cy="166.79" r="2.10" fill="#f52525"/><circle cx="468.20" cy="163.74" r="2.10" fill="#f52525"/><circle cx="472.84" cy="162.02" r="2.10" fill="#f52525"/><circle cx="477.48" cy="159.54" r="2.10" fill="#f52525"/><circle cx="482.11" cy="157.26" r="2.10" fill="#f52525"/><circle cx="486.75" cy="156.11" r="2.10" fill="#f52525"/><circle cx="491.39" cy="154.59" r="2.10" fill="#f52525"/><circle cx="496.02" cy="152.87" r="2.10" fill="#f52525"/><circle cx="500.66" cy="150.58" r="2.10" fill="#f52525"/><circle cx="505.30" cy="147.91" r="2.10" fill="#f52525"/><circle cx="509.94" cy="146.39" r="2.10" fill="#f52525"/><circle cx="514.58" cy="145.24" r="2.10" fill="#f52525"/><circle cx="519.21" cy="144.10" r="2.10" fill="#f52525"/><circle cx="523.85" cy="142.95" r="2.10" fill="#f52525"/><circle cx="528.49" cy="142.19" r="2.10" fill="#f52525"/><circle cx="533.12" cy="141.43" r="2.10" fill="#f52525"/><circle cx="537.76" cy="140.66" r="2.10" fill="#f52525"/><circle cx="542.40" cy="140.47" r="2.10" fill="#f52525"/>
<path d="M319.80,192.34L324.44,192.26L329.07,192.17L333.71,192.08L338.35,192.00L342.99,191.91L347.62,191.82L352.26,191.74L356.90,191.65L361.54,191.56L366.18,191.48L370.81,191.39L375.45,190.06L380.09,188.15L384.73,187.00L389.36,183.76L394.00,178.04L398.64,170.03L403.28,162.21L407.91,156.11L412.55,150.96L417.19,146.58L421.83,143.72L426.46,140.47L431.10,136.09L435.74,129.03L440.38,121.21L445.01,114.54L449.65,110.92L454.29,108.44L458.93,106.53L463.56,104.62L468.20,102.14L472.84,98.90L477.48,96.04L482.11,93.56L486.75,91.08L491.39,88.60L496.02,85.36L500.66,81.17L505.30,77.92L509.94,75.06L514.58,71.25L519.21,66.86L523.85,61.91L528.49,58.28L533.12,55.04L537.76,53.32L542.40,50.84" fill="none" stroke="#1c5ee6" stroke-width="0.6"/>
<path d="M319.80,189.99L322.15,194.34L317.45,194.34Z" fill="#1c5ee6"/><path d="M324.44,189.91L326.79,194.25L322.09,194.25Z" fill="#1c5ee6"/><path d="M329.07,189.82L331.43,194.17L326.72,194.17Z" fill="#1c5ee6"/><path d="M333.71,189.73L336.06,194.08L331.36,194.08Z" fill="#1c5ee6"/><path d="M338.35,189.65L340.70,193.99L336.00,193.99Z" fill="#1c5ee6"/><path d="M342.99,189.56L345.34,193.91L340.64,193.91Z" fill="#1c5ee6"/><path d="M347.62,189.47L349.98,193.82L345.27,193.82Z" fill="#1c5ee6"/><path d="M352.26,189.39L354.61,193.73L349.91,193.73Z" fill="#1c5ee6"/><path d="M356.90,189.30L359.25,193.65L354.55,193.65Z" fill="#1c5ee6"/><path d="M361.54,189.21L363.89,193.56L359.19,193.56Z" fill="#1c5ee6"/><path d="M366.18,189.13L368.53,193.47L363.82,193.47Z" fill="#1c5ee6"/><path d="M370.81,189.04L373.16,193.39L368.46,193.39Z" fill="#1c5ee6"/><path d="M375.45,187.71L377.80,192.05L373.10,192.05Z" fill="#1c5ee6"/><path d="M380.09,185.80L382.44,190.15L377.74,190.15Z" fill="#1c5ee6"/><path d="M384.73,184.65L387.08,189.00L382.38,189.00Z" fill="#1c5ee6"/><path d="M389.36,181.41L391.71,185.76L387.01,185.76Z" fill="#1c5ee6"/><path d="M394.00,175.69L396.35,180.04L391.65,180.04Z" fill="#1c5ee6"/><path d="M398.64,167.68L400.99,172.03L396.29,172.03Z" fill="#1c5ee6"/><path d="M403.28,159.86L405.63,164.21L400.93,164.21Z" fill="#1c5ee6"/><path d="M407.91,153.76L410.26,158.11L405.56,158.11Z" fill="#1c5ee6"/><path d="M412.55,148.61L414.90,152.96L410.20,152.96Z" fill="#1c5ee6"/><path d="M417.19,144.23L419.54,148.57L414.84,148.57Z" fill="#1c5ee6"/><path d="M421.83,141.37L424.18,145.71L419.48,145.71Z" fill="#1c5ee6"/><path d="M426.46,138.12L428.81,142.47L424.11,142.47Z" fill="#1c5ee6"/><path d="M431.10,133.74L433.45,138.09L428.75,138.09Z" fill="#1c5ee6"/><path d="M435.74,126.68L438.09,131.03L433.39,131.03Z" fill="#1c5ee6"/><path d="M440.38,118.86L442.73,123.21L438.02,123.21Z" fill="#1c5ee6"/><path d="M445.01,112.19L447.36,116.54L442.66,116.54Z" fill="#1c5ee6"/><path d="M449.65,108.57L452.00,112.91L447.30,112.91Z" fill="#1c5ee6"/><path d="M454.29,106.09L456.64,110.43L451.94,110.43Z" fill="#1c5ee6"/><path d="M458.93,104.18L461.28,108.53L456.57,108.53Z" fill="#1c5ee6"/><path d="M463.56,102.27L465.91,106.62L461.21,106.62Z" fill="#1c5ee6"/><path d="M468.20,99.79L470.55,104.14L465.85,104.14Z" fill="#1c5ee6"/><path d="M472.84,96.55L475.19,100.90L470.49,100.90Z" fill="#1c5ee6"/><path d="M477.48,93.69L479.83,98.04L475.12,98.04Z" fill="#1c5ee6"/><path d="M482.11,91.21L484.46,95.56L479.76,95.56Z" fill="#1c5ee6"/><path d="M486.75,88.73L489.10,93.08L484.40,93.08Z" fill="#1c5ee6"/><path d="M491.39,86.25L493.74,90.60L489.04,90.60Z" fill="#1c5ee6"/><path d="M496.02,83.01L498.38,87.36L493.67,87.36Z" fill="#1c5ee6"/><path d="M500.66,78.82L503.01,83.16L498.31,83.16Z" fill="#1c5ee6"/><path d="M505.30,75.57L507.65,79.92L502.95,79.92Z" fill="#1c5ee6"/><path d="M509.94,72.71L512.29,77.06L507.59,77.06Z" fill="#1c5ee6"/><path d="M514.58,68.90L516.93,73.25L512.23,73.25Z" fill="#1c5ee6"/><path d="M519.21,64.51L521.56,68.86L516.86,68.86Z" fill="#1c5ee6"/><path d="M523.85,59.56L526.20,63.90L521.50,63.90Z" fill="#1c5ee6"/><path d="M528.49,55.93L530.84,60.28L526.14,60.28Z" fill="#1c5ee6"/><path d="M533.12,52.69L535.48,57.04L530.77,57.04Z" fill="#1c5ee6"/><path d="M537.76,50.97L540.11,55.32L535.41,55.32Z" fill="#1c5ee6"/><path d="M542.40,48.49L544.75,52.84L540.05,52.84Z" fill="#1c5ee6"/>
<path d="M319.80,192.34L324.44,192.15L329.07,191.96L333.71,191.77L338.35,191.58L342.99,191.39L347.62,191.20L352.26,191.01L356.90,190.82L361.54,190.63L366.18,190.44L370.81,186.24L375.45,179.00L380.09,165.65L384.73,156.11L389.36,150.96L394.00,147.53L398.64,142.76L403.28,137.04L407.91,131.32L412.55,123.69L417.19,113.20L421.83,107.10L426.46,99.85L431.10,94.13L435.74,88.03L440.38,82.50L445.01,77.54L449.65,71.82L454.29,65.72L458.93,59.43L463.56,54.47L468.20,49.13L472.84,45.89L477.48,43.22L482.11,40.93L486.75,39.02L491.39,38.07L496.02,37.50L500.66,37.11L505.30,36.73L509.94,36.59L514.58,36.45L519.21,36.30L523.85,36.16L528.49,36.26L533.12,36.35L537.76,36.45L542.40,36.54" fill="none" stroke="#14965a" stroke-width="0.6"/>
<path d="M319.80,194.69L322.15,190.35L317.45,190.35Z" fill="#14965a"/><path d="M324.44,194.50L326.79,190.16L322.09,190.16Z" fill="#14965a"/><path d="M329.07,194.31L331.43,189.97L326.72,189.97Z" fill="#14965a"/><path d="M333.71,194.12L336.06,189.77L331.36,189.77Z" fill="#14965a"/><path d="M338.35,193.93L340.70,189.58L336.00,189.58Z" fill="#14965a"/><path d="M342.99,193.74L345.34,189.39L340.64,189.39Z" fill="#14965a"/><path d="M347.62,193.55L349.98,189.20L345.27,189.20Z" fill="#14965a"/><path d="M352.26,193.36L354.61,189.01L349.91,189.01Z" fill="#14965a"/><path d="M356.90,193.17L359.25,188.82L354.55,188.82Z" fill="#14965a"/><path d="M361.54,192.98L363.89,188.63L359.19,188.63Z" fill="#14965a"/><path d="M366.18,192.79L368.53,188.44L363.82,188.44Z" fill="#14965a"/><path d="M370.81,188.59L373.16,184.24L368.46,184.24Z" fill="#14965a"/><path d="M375.45,181.34L377.80,177.00L373.10,177.00Z" fill="#14965a"/><path d="M380.09,168.00L382.44,163.65L377.74,163.65Z" fill="#14965a"/><path d="M384.73,158.46L387.08,154.11L382.38,154.11Z" fill="#14965a"/><path d="M389.36,153.31L391.71,148.96L387.01,148.96Z" fill="#14965a"/><path d="M394.00,149.88L396.35,145.53L391.65,145.53Z" fill="#14965a"/><path d="M398.64,145.11L400.99,140.76L396.29,140.76Z" fill="#14965a"/><path d="M403.28,139.39L405.63,135.04L400.93,135.04Z" fill="#14965a"/><path d="M407.91,133.67L410.26,129.32L405.56,129.32Z" fill="#14965a"/><path d="M412.55,126.04L414.90,121.69L410.20,121.69Z" fill="#14965a"/><path d="M417.19,115.55L419.54,111.21L414.84,111.21Z" fill="#14965a"/><path d="M421.83,109.45L424.18,105.10L419.48,105.10Z" fill="#14965a"/><path d="M426.46,102.20L428.81,97.86L424.11,97.86Z" fill="#14965a"/><path d="M431.10,96.48L433.45,92.14L428.75,92.14Z" fill="#14965a"/><path d="M435.74,90.38L438.09,86.03L433.39,86.03Z" fill="#14965a"/><path d="M440.38,84.85L442.73,80.50L438.02,80.50Z" fill="#14965a"/><path d="M445.01,79.89L447.36,75.55L442.66,75.55Z" fill="#14965a"/><path d="M449.65,74.17L452.00,69.82L447.30,69.82Z" fill="#14965a"/><path d="M454.29,68.07L456.64,63.72L451.94,63.72Z" fill="#14965a"/><path d="M458.93,61.78L461.28,57.43L456.57,57.43Z" fill="#14965a"/><path d="M463.56,56.82L465.91,52.47L461.21,52.47Z" fill="#14965a"/><path d="M468.20,51.48L470.55,47.13L465.85,47.13Z" fill="#14965a"/><path d="M472.84,48.24L475.19,43.89L470.49,43.89Z" fill="#14965a"/><path d="M477.48,45.57L479.83,41.22L475.12,41.22Z" fill="#14965a"/><path d="M482.11,43.28L484.46,38.93L479.76,38.93Z" fill="#14965a"/><path d="M486.75,41.37L489.10,37.02L484.40,37.02Z" fill="#14965a"/><path d="M491.39,40.42L493.74,36.07L489.04,36.07Z" fill="#14965a"/><path d="M496.02,39.85L498.38,35.50L493.67,35.50Z" fill="#14965a"/><path d="M500.66,39.46L503.01,35.12L498.31,35.12Z" fill="#14965a"/><path d="M505.30,39.08L507.65,34.74L502.95,34.74Z" fill="#14965a"/><path d="M509.94,38.94L512.29,34.59L507.59,34.59Z" fill="#14965a"/><path d="M514.58,38.80L516.93,34.45L512.23,34.45Z" fill="#14965a"/><path d="M519.21,38.65L521.56,34.31L516.86,34.31Z" fill="#14965a"/><path d="M523.85,38.51L526.20,34.16L521.50,34.16Z" fill="#14965a"/><path d="M528.49,38.61L530.84,34.26L526.14,34.26Z" fill="#14965a"/><path d="M533.12,38.70L535.48,34.35L530.77,34.35Z" fill="#14965a"/><path d="M537.76,38.80L540.11,34.45L535.41,34.45Z" fill="#14965a"/><path d="M542.40,38.89L544.75,34.54L540.05,34.54Z" fill="#14965a"/>
<path d="M319.80,192.34L324.44,191.87L329.07,191.39L333.71,190.91L338.35,190.44L342.99,189.96L347.62,189.48L352.26,189.01L356.90,188.53L361.54,185.29L366.18,176.71L370.81,158.59L375.45,149.44L380.09,141.24L384.73,133.23L389.36,125.03L394.00,118.35L398.64,111.30L403.28,103.29L407.91,95.85L412.55,89.56L417.19,82.69L421.83,76.02L426.46,68.58L431.10,61.71L435.74,55.99L440.38,50.84L445.01,46.27L449.65,42.64L454.29,39.40L458.93,36.92L463.56,35.02L468.20,33.49L472.84,32.68L477.48,31.87L482.11,31.06L486.75,30.25L491.39,30.06L496.02,29.87L500.66,29.68L505.30,29.49L509.94,29.30L514.58,29.10L519.21,29.30L523.85,29.49L528.49,29.68L533.12,29.87L537.76,30.06L542.40,30.25" fill="none" stroke="#a65ef0" stroke-width="0.6"/>
<path d="M319.80,189.89L322.25,192.34L319.80,194.79L317.35,192.34Z" fill="#a65ef0"/><path d="M324.44,189.42L326.89,191.87L324.44,194.32L321.99,191.87Z" fill="#a65ef0"/><path d="M329.07,188.94L331.52,191.39L329.07,193.84L326.62,191.39Z" fill="#a65ef0"/><path d="M333.71,188.46L336.16,190.91L333.71,193.36L331.26,190.91Z" fill="#a65ef0"/><path d="M338.35,187.99L340.80,190.44L338.35,192.89L335.90,190.44Z" fill="#a65ef0"/><path d="M342.99,187.51L345.44,189.96L342.99,192.41L340.54,189.96Z" fill="#a65ef0"/><path d="M347.62,187.03L350.07,189.48L347.62,191.93L345.18,189.48Z" fill="#a65ef0"/><path d="M352.26,186.56L354.71,189.01L352.26,191.46L349.81,189.01Z" fill="#a65ef0"/><path d="M356.90,186.08L359.35,188.53L356.90,190.98L354.45,188.53Z" fill="#a65ef0"/><path d="M361.54,182.84L363.99,185.29L361.54,187.74L359.09,185.29Z" fill="#a65ef0"/><path d="M366.18,174.26L368.62,176.71L366.18,179.16L363.73,176.71Z" fill="#a65ef0"/><path d="M370.81,156.14L373.26,158.59L370.81,161.04L368.36,158.59Z" fill="#a65ef0"/><path d="M375.45,146.99L377.90,149.44L375.45,151.89L373.00,149.44Z" fill="#a65ef0"/><path d="M380.09,138.79L382.54,141.24L380.09,143.69L377.64,141.24Z" fill="#a65ef0"/><path d="M384.73,130.78L387.18,133.23L384.73,135.68L382.28,133.23Z" fill="#a65ef0"/><path d="M389.36,122.58L391.81,125.03L389.36,127.48L386.91,125.03Z" fill="#a65ef0"/><path d="M394.00,115.90L396.45,118.35L394.00,120.80L391.55,118.35Z" fill="#a65ef0"/><path d="M398.64,108.85L401.09,111.30L398.64,113.75L396.19,111.30Z" fill="#a65ef0"/><path d="M403.28,100.84L405.73,103.29L403.28,105.74L400.83,103.29Z" fill="#a65ef0"/><path d="M407.91,93.40L410.36,95.85L407.91,98.30L405.46,95.85Z" fill="#a65ef0"/><path d="M412.55,87.11L415.00,89.56L412.55,92.01L410.10,89.56Z" fill="#a65ef0"/><path d="M417.19,80.24L419.64,82.69L417.19,85.14L414.74,82.69Z" fill="#a65ef0"/><path d="M421.83,73.57L424.28,76.02L421.83,78.47L419.38,76.02Z" fill="#a65ef0"/><path d="M426.46,66.13L428.91,68.58L426.46,71.03L424.01,68.58Z" fill="#a65ef0"/><path d="M431.10,59.26L433.55,61.71L431.10,64.16L428.65,61.71Z" fill="#a65ef0"/><path d="M435.74,53.54L438.19,55.99L435.74,58.44L433.29,55.99Z" fill="#a65ef0"/><path d="M440.38,48.39L442.82,50.84L440.38,53.29L437.93,50.84Z" fill="#a65ef0"/><path d="M445.01,43.82L447.46,46.27L445.01,48.72L442.56,46.27Z" fill="#a65ef0"/><path d="M449.65,40.19L452.10,42.64L449.65,45.09L447.20,42.64Z" fill="#a65ef0"/><path d="M454.29,36.95L456.74,39.40L454.29,41.85L451.84,39.40Z" fill="#a65ef0"/><path d="M458.93,34.47L461.38,36.92L458.93,39.37L456.48,36.92Z" fill="#a65ef0"/><path d="M463.56,32.57L466.01,35.02L463.56,37.47L461.11,35.02Z" fill="#a65ef0"/><path d="M468.20,31.04L470.65,33.49L468.20,35.94L465.75,33.49Z" fill="#a65ef0"/><path d="M472.84,30.23L475.29,32.68L472.84,35.13L470.39,32.68Z" fill="#a65ef0"/><path d="M477.48,29.42L479.93,31.87L477.48,34.32L475.03,31.87Z" fill="#a65ef0"/><path d="M482.11,28.61L484.56,31.06L482.11,33.51L479.66,31.06Z" fill="#a65ef0"/><path d="M486.75,27.80L489.20,30.25L486.75,32.70L484.30,30.25Z" fill="#a65ef0"/><path d="M491.39,27.61L493.84,30.06L491.39,32.51L488.94,30.06Z" fill="#a65ef0"/><path d="M496.02,27.42L498.47,29.87L496.02,32.32L493.57,29.87Z" fill="#a65ef0"/><path d="M500.66,27.23L503.11,29.68L500.66,32.13L498.21,29.68Z" fill="#a65ef0"/><path d="M505.30,27.04L507.75,29.49L505.30,31.94L502.85,29.49Z" fill="#a65ef0"/><path d="M509.94,26.85L512.39,29.30L509.94,31.75L507.49,29.30Z" fill="#a65ef0"/><path d="M514.58,26.65L517.03,29.10L514.58,31.55L512.12,29.10Z" fill="#a65ef0"/><path d="M519.21,26.85L521.66,29.30L519.21,31.75L516.76,29.30Z" fill="#a65ef0"/><path d="M523.85,27.04L526.30,29.49L523.85,31.94L521.40,29.49Z" fill="#a65ef0"/><path d="M528.49,27.23L530.94,29.68L528.49,32.13L526.04,29.68Z" fill="#a65ef0"/><path d="M533.12,27.42L535.58,29.87L533.12,32.32L530.67,29.87Z" fill="#a65ef0"/><path d="M537.76,27.61L540.21,30.06L537.76,32.51L535.31,30.06Z" fill="#a65ef0"/><path d="M542.40,27.80L544.85,30.25L542.40,32.70L539.95,30.25Z" fill="#a65ef0"/>
<path d="M319.80,192.34L324.44,192.07L329.07,191.80L333.71,191.53L338.35,191.25L342.99,190.98L347.62,190.71L352.26,190.44L356.90,184.33L361.54,169.46L366.18,152.30L370.81,144.67L375.45,137.99L380.09,129.41L384.73,120.64L389.36,111.30L394.00,99.47L398.64,91.08L403.28,83.45L407.91,76.02L412.55,69.34L417.19,61.14L421.83,54.09L426.46,47.41L431.10,42.64L435.74,38.83L440.38,35.97L445.01,33.87L449.65,31.77L454.29,30.54L458.93,29.30L463.56,29.14L468.20,28.98L472.84,28.82L477.48,28.66L482.11,28.50L486.75,28.34L491.39,28.42L496.02,28.50L500.66,28.58L505.30,28.66L509.94,28.74L514.58,28.82L519.21,28.90L523.85,28.98L528.49,29.06L533.12,29.14L537.76,29.22L542.40,29.30" fill="none" stroke="#d99c14" stroke-width="0.6"/>
<path d="M317.45,192.34L321.80,189.99L321.80,194.69Z" fill="#d99c14"/><path d="M322.09,192.07L326.44,189.72L326.44,194.42Z" fill="#d99c14"/><path d="M326.72,191.80L331.07,189.45L331.07,194.15Z" fill="#d99c14"/><path d="M331.36,191.53L335.71,189.18L335.71,193.88Z" fill="#d99c14"/><path d="M336.00,191.25L340.35,188.90L340.35,193.60Z" fill="#d99c14"/><path d="M340.64,190.98L344.99,188.63L344.99,193.33Z" fill="#d99c14"/><path d="M345.27,190.71L349.62,188.36L349.62,193.06Z" fill="#d99c14"/><path d="M349.91,190.44L354.26,188.09L354.26,192.79Z" fill="#d99c14"/><path d="M354.55,184.33L358.90,181.98L358.90,186.68Z" fill="#d99c14"/><path d="M359.19,169.46L363.54,167.11L363.54,171.81Z" fill="#d99c14"/><path d="M363.82,152.30L368.17,149.95L368.17,154.65Z" fill="#d99c14"/><path d="M368.46,144.67L372.81,142.32L372.81,147.02Z" fill="#d99c14"/><path d="M373.10,137.99L377.45,135.64L377.45,140.34Z" fill="#d99c14"/><path d="M377.74,129.41L382.09,127.06L382.09,131.76Z" fill="#d99c14"/><path d="M382.38,120.64L386.72,118.29L386.72,122.99Z" fill="#d99c14"/><path d="M387.01,111.30L391.36,108.95L391.36,113.65Z" fill="#d99c14"/><path d="M391.65,99.47L396.00,97.12L396.00,101.82Z" fill="#d99c14"/><path d="M396.29,91.08L400.64,88.73L400.64,93.43Z" fill="#d99c14"/><path d="M400.93,83.45L405.27,81.10L405.27,85.80Z" fill="#d99c14"/><path d="M405.56,76.02L409.91,73.67L409.91,78.37Z" fill="#d99c14"/><path d="M410.20,69.34L414.55,66.99L414.55,71.69Z" fill="#d99c14"/><path d="M414.84,61.14L419.19,58.79L419.19,63.49Z" fill="#d99c14"/><path d="M419.48,54.09L423.82,51.74L423.82,56.44Z" fill="#d99c14"/><path d="M424.11,47.41L428.46,45.06L428.46,49.76Z" fill="#d99c14"/><path d="M428.75,42.64L433.10,40.29L433.10,44.99Z" fill="#d99c14"/><path d="M433.39,38.83L437.74,36.48L437.74,41.18Z" fill="#d99c14"/><path d="M438.02,35.97L442.37,33.62L442.37,38.32Z" fill="#d99c14"/><path d="M442.66,33.87L447.01,31.52L447.01,36.22Z" fill="#d99c14"/><path d="M447.30,31.77L451.65,29.42L451.65,34.12Z" fill="#d99c14"/><path d="M451.94,30.54L456.29,28.19L456.29,32.89Z" fill="#d99c14"/><path d="M456.57,29.30L460.92,26.95L460.92,31.65Z" fill="#d99c14"/><path d="M461.21,29.14L465.56,26.79L465.56,31.49Z" fill="#d99c14"/><path d="M465.85,28.98L470.20,26.63L470.20,31.33Z" fill="#d99c14"/><path d="M470.49,28.82L474.83,26.47L474.83,31.17Z" fill="#d99c14"/><path d="M475.12,28.66L479.47,26.31L479.47,31.01Z" fill="#d99c14"/><path d="M479.76,28.50L484.11,26.15L484.11,30.85Z" fill="#d99c14"/><path d="M484.40,28.34L488.75,25.99L488.75,30.69Z" fill="#d99c14"/><path d="M489.04,28.42L493.39,26.07L493.39,30.77Z" fill="#d99c14"/><path d="M493.67,28.50L498.02,26.15L498.02,30.85Z" fill="#d99c14"/><path d="M498.31,28.58L502.66,26.23L502.66,30.93Z" fill="#d99c14"/><path d="M502.95,28.66L507.30,26.31L507.30,31.01Z" fill="#d99c14"/><path d="M507.59,28.74L511.94,26.39L511.94,31.09Z" fill="#d99c14"/><path d="M512.23,28.82L516.57,26.47L516.57,31.17Z" fill="#d99c14"/><path d="M516.86,28.90L521.21,26.55L521.21,31.25Z" fill="#d99c14"/><path d="M521.50,28.98L525.85,26.63L525.85,31.33Z" fill="#d99c14"/><path d="M526.14,29.06L530.48,26.71L530.48,31.41Z" fill="#d99c14"/><path d="M530.77,29.14L535.12,26.79L535.12,31.49Z" fill="#d99c14"/><path d="M535.41,29.22L539.76,26.87L539.76,31.57Z" fill="#d99c14"/><path d="M540.05,29.30L544.40,26.95L544.40,31.65Z" fill="#d99c14"/>
<path d="M319.80,192.34L324.44,192.19L329.07,192.03L333.71,191.87L338.35,191.71L342.99,191.55L347.62,191.39L352.26,185.67L356.90,169.46L361.54,152.30L366.18,142.76L370.81,137.04L375.45,130.37L380.09,120.83L384.73,110.34L389.36,98.90L394.00,86.51L398.64,76.02L403.28,69.34L407.91,63.62L412.55,57.90L417.19,54.09L421.83,49.32L426.46,45.50L431.10,41.69L435.74,39.31L440.38,36.92L445.01,35.02L449.65,33.11L454.29,32.49L458.93,31.87L463.56,31.25L468.20,30.63L472.84,30.61L477.48,30.58L482.11,30.56L486.75,30.54L491.39,30.51L496.02,30.49L500.66,30.46L505.30,30.44L509.94,30.42L514.58,30.39L519.21,30.37L523.85,30.34L528.49,30.32L533.12,30.30L537.76,30.27L542.40,30.25" fill="none" stroke="#20c6cf" stroke-width="0.6"/>
<path d="M322.15,192.34L317.80,189.99L317.80,194.69Z" fill="#20c6cf"/><path d="M326.79,192.19L322.44,189.84L322.44,194.54Z" fill="#20c6cf"/><path d="M331.43,192.03L327.08,189.68L327.08,194.38Z" fill="#20c6cf"/><path d="M336.06,191.87L331.72,189.52L331.72,194.22Z" fill="#20c6cf"/><path d="M340.70,191.71L336.35,189.36L336.35,194.06Z" fill="#20c6cf"/><path d="M345.34,191.55L340.99,189.20L340.99,193.90Z" fill="#20c6cf"/><path d="M349.98,191.39L345.63,189.04L345.63,193.74Z" fill="#20c6cf"/><path d="M354.61,185.67L350.26,183.32L350.26,188.02Z" fill="#20c6cf"/><path d="M359.25,169.46L354.90,167.11L354.90,171.81Z" fill="#20c6cf"/><path d="M363.89,152.30L359.54,149.95L359.54,154.65Z" fill="#20c6cf"/><path d="M368.53,142.76L364.18,140.41L364.18,145.11Z" fill="#20c6cf"/><path d="M373.16,137.04L368.81,134.69L368.81,139.39Z" fill="#20c6cf"/><path d="M377.80,130.37L373.45,128.02L373.45,132.72Z" fill="#20c6cf"/><path d="M382.44,120.83L378.09,118.48L378.09,123.18Z" fill="#20c6cf"/><path d="M387.08,110.34L382.73,107.99L382.73,112.69Z" fill="#20c6cf"/><path d="M391.71,98.90L387.37,96.55L387.37,101.25Z" fill="#20c6cf"/><path d="M396.35,86.51L392.00,84.16L392.00,88.86Z" fill="#20c6cf"/><path d="M400.99,76.02L396.64,73.67L396.64,78.37Z" fill="#20c6cf"/><path d="M405.63,69.34L401.28,66.99L401.28,71.69Z" fill="#20c6cf"/><path d="M410.26,63.62L405.92,61.27L405.92,65.97Z" fill="#20c6cf"/><path d="M414.90,57.90L410.55,55.55L410.55,60.25Z" fill="#20c6cf"/><path d="M419.54,54.09L415.19,51.74L415.19,56.44Z" fill="#20c6cf"/><path d="M424.18,49.32L419.83,46.97L419.83,51.67Z" fill="#20c6cf"/><path d="M428.81,45.50L424.47,43.15L424.47,47.85Z" fill="#20c6cf"/><path d="M433.45,41.69L429.10,39.34L429.10,44.04Z" fill="#20c6cf"/><path d="M438.09,39.31L433.74,36.96L433.74,41.66Z" fill="#20c6cf"/><path d="M442.73,36.92L438.38,34.57L438.38,39.27Z" fill="#20c6cf"/><path d="M447.36,35.02L443.02,32.67L443.02,37.37Z" fill="#20c6cf"/><path d="M452.00,33.11L447.65,30.76L447.65,35.46Z" fill="#20c6cf"/><path d="M456.64,32.49L452.29,30.14L452.29,34.84Z" fill="#20c6cf"/><path d="M461.28,31.87L456.93,29.52L456.93,34.22Z" fill="#20c6cf"/><path d="M465.91,31.25L461.56,28.90L461.56,33.60Z" fill="#20c6cf"/><path d="M470.55,30.63L466.20,28.28L466.20,32.98Z" fill="#20c6cf"/><path d="M475.19,30.61L470.84,28.26L470.84,32.96Z" fill="#20c6cf"/><path d="M479.83,30.58L475.48,28.23L475.48,32.93Z" fill="#20c6cf"/><path d="M484.46,30.56L480.12,28.21L480.12,32.91Z" fill="#20c6cf"/><path d="M489.10,30.54L484.75,28.19L484.75,32.89Z" fill="#20c6cf"/><path d="M493.74,30.51L489.39,28.16L489.39,32.86Z" fill="#20c6cf"/><path d="M498.38,30.49L494.03,28.14L494.03,32.84Z" fill="#20c6cf"/><path d="M503.01,30.46L498.67,28.11L498.67,32.81Z" fill="#20c6cf"/><path d="M507.65,30.44L503.30,28.09L503.30,32.79Z" fill="#20c6cf"/><path d="M512.29,30.42L507.94,28.07L507.94,32.77Z" fill="#20c6cf"/><path d="M516.93,30.39L512.58,28.04L512.58,32.74Z" fill="#20c6cf"/><path d="M521.56,30.37L517.22,28.02L517.22,32.72Z" fill="#20c6cf"/><path d="M526.20,30.34L521.85,27.99L521.85,32.69Z" fill="#20c6cf"/><path d="M530.84,30.32L526.49,27.97L526.49,32.67Z" fill="#20c6cf"/><path d="M535.48,30.30L531.13,27.95L531.13,32.65Z" fill="#20c6cf"/><path d="M540.11,30.27L535.77,27.92L535.77,32.62Z" fill="#20c6cf"/><path d="M544.75,30.25L540.40,27.90L540.40,32.60Z" fill="#20c6cf"/>
<path d="M319.80,192.34L324.44,192.19L329.07,192.03L333.71,191.87L338.35,191.71L342.99,191.55L347.62,191.39L352.26,184.72L356.90,167.55L361.54,150.39L366.18,141.81L370.81,136.09L375.45,129.41L380.09,119.88L384.73,109.58L389.36,98.52L394.00,87.46L398.64,78.50L403.28,71.06L407.91,64.58L412.55,58.85L417.19,55.04L421.83,50.84L426.46,45.89L431.10,42.26L435.74,39.59L440.38,36.92L445.01,35.02L449.65,33.11L454.29,32.39L458.93,31.68L463.56,30.96L468.20,30.25L472.84,30.11L477.48,29.96L482.11,29.82L486.75,29.68L491.39,29.53L496.02,29.39L500.66,29.25L505.30,29.10L509.94,29.08L514.58,29.06L519.21,29.03L523.85,29.01L528.49,28.99L533.12,28.96L537.76,28.94L542.40,28.91" fill="none" stroke="#6f3b3b" stroke-width="0.6"/>
<circle cx="319.80" cy="192.34" r="2.10" fill="#6f3b3b"/><circle cx="324.44" cy="192.19" r="2.10" fill="#6f3b3b"/><circle cx="329.07" cy="192.03" r="2.10" fill="#6f3b3b"/><circle cx="333.71" cy="191.87" r="2.10" fill="#6f3b3b"/><circle cx="338.35" cy="191.71" r="2.10" fill="#6f3b3b"/><circle cx="342.99" cy="191.55" r="2.10" fill="#6f3b3b"/><circle cx="347.62" cy="191.39" r="2.10" fill="#6f3b3b"/><circle cx="352.26" cy="184.72" r="2.10" fill="#6f3b3b"/><circle cx="356.90" cy="167.55" r="2.10" fill="#6f3b3b"/><circle cx="361.54" cy="150.39" r="2.10" fill="#6f3b3b"/><circle cx="366.18" cy="141.81" r="2.10" fill="#6f3b3b"/><circle cx="370.81" cy="136.09" r="2.10" fill="#6f3b3b"/><circle cx="375.45" cy="129.41" r="2.10" fill="#6f3b3b"/><circle cx="380.09" cy="119.88" r="2.10" fill="#6f3b3b"/><circle cx="384.73" cy="109.58" r="2.10" fill="#6f3b3b"/><circle cx="389.36" cy="98.52" r="2.10" fill="#6f3b3b"/><circle cx="394.00" cy="87.46" r="2.10" fill="#6f3b3b"/><circle cx="398.64" cy="78.50" r="2.10" fill="#6f3b3b"/><circle cx="403.28" cy="71.06" r="2.10" fill="#6f3b3b"/><circle cx="407.91" cy="64.58" r="2.10" fill="#6f3b3b"/><circle cx="412.55" cy="58.85" r="2.10" fill="#6f3b3b"/><circle cx="417.19" cy="55.04" r="2.10" fill="#6f3b3b"/><circle cx="421.83" cy="50.84" r="2.10" fill="#6f3b3b"/><circle cx="426.46" cy="45.89" r="2.10" fill="#6f3b3b"/><circle cx="431.10" cy="42.26" r="2.10" fill="#6f3b3b"/><circle cx="435.74" cy="39.59" r="2.10" fill="#6f3b3b"/><circle cx="440.38" cy="36.92" r="2.10" fill="#6f3b3b"/><circle cx="445.01" cy="35.02" r="2.10" fill="#6f3b3b"/><circle cx="449.65" cy="33.11" r="2.10" fill="#6f3b3b"/><circle cx="454.29" cy="32.39" r="2.10" fill="#6f3b3b"/><circle cx="458.93" cy="31.68" r="2.10" fill="#6f3b3b"/><circle cx="463.56" cy="30.96" r="2.10" fill="#6f3b3b"/><circle cx="468.20" cy="30.25" r="2.10" fill="#6f3b3b"/><circle cx="472.84" cy="30.11" r="2.10" fill="#6f3b3b"/><circle cx="477.48" cy="29.96" r="2.10" fill="#6f3b3b"/><circle cx="482.11" cy="29.82" r="2.10" fill="#6f3b3b"/><circle cx="486.75" cy="29.68" r="2.10" fill="#6f3b3b"/><circle cx="491.39" cy="29.53" r="2.10" fill="#6f3b3b"/><circle cx="496.02" cy="29.39" r="2.10" fill="#6f3b3b"/><circle cx="500.66" cy="29.25" r="2.10" fill="#6f3b3b"/><circle cx="505.30" cy="29.10" r="2.10" fill="#6f3b3b"/><circle cx="509.94" cy="29.08" r="2.10" fill="#6f3b3b"/><circle cx="514.58" cy="29.06" r="2.10" fill="#6f3b3b"/><circle cx="519.21" cy="29.03" r="2.10" fill="#6f3b3b"/><circle cx="523.85" cy="29.01" r="2.10" fill="#6f3b3b"/><circle cx="528.49" cy="28.99" r="2.10" fill="#6f3b3b"/><circle cx="533.12" cy="28.96" r="2.10" fill="#6f3b3b"/><circle cx="537.76" cy="28.94" r="2.10" fill="#6f3b3b"/><circle cx="542.40" cy="28.91" r="2.10" fill="#6f3b3b"/>
<path d="M319.80,192.34L324.44,192.09L329.07,191.84L333.71,191.58L338.35,191.33L342.99,191.07L347.62,190.82L352.26,183.76L356.90,163.74L361.54,146.58L366.18,140.86L370.81,135.13L375.45,127.89L380.09,117.59L384.73,106.53L389.36,95.09L394.00,84.98L398.64,74.49L403.28,67.82L407.91,62.29L412.55,55.99L417.19,52.18L421.83,48.37L426.46,45.12L431.10,42.07L435.74,39.78L440.38,37.88L445.01,36.92L449.65,35.97L454.29,35.73L458.93,35.49L463.56,35.25L468.20,35.02L472.84,35.02L477.48,35.02L482.11,35.02L486.75,35.02L491.39,35.02L496.02,35.02L500.66,35.02L505.30,35.02L509.94,35.02L514.58,35.02L519.21,35.02L523.85,35.02L528.49,35.02L533.12,35.02L537.76,35.02L542.40,35.02" fill="none" stroke="#7f8e1c" stroke-width="0.6"/>
<circle cx="319.80" cy="192.34" r="1.60" fill="#7f8e1c"/><circle cx="324.44" cy="192.09" r="1.60" fill="#7f8e1c"/><circle cx="329.07" cy="191.84" r="1.60" fill="#7f8e1c"/><circle cx="333.71" cy="191.58" r="1.60" fill="#7f8e1c"/><circle cx="338.35" cy="191.33" r="1.60" fill="#7f8e1c"/><circle cx="342.99" cy="191.07" r="1.60" fill="#7f8e1c"/><circle cx="347.62" cy="190.82" r="1.60" fill="#7f8e1c"/><circle cx="352.26" cy="183.76" r="1.60" fill="#7f8e1c"/><circle cx="356.90" cy="163.74" r="1.60" fill="#7f8e1c"/><circle cx="361.54" cy="146.58" r="1.60" fill="#7f8e1c"/><circle cx="366.18" cy="140.86" r="1.60" fill="#7f8e1c"/><circle cx="370.81" cy="135.13" r="1.60" fill="#7f8e1c"/><circle cx="375.45" cy="127.89" r="1.60" fill="#7f8e1c"/><circle cx="380.09" cy="117.59" r="1.60" fill="#7f8e1c"/><circle cx="384.73" cy="106.53" r="1.60" fill="#7f8e1c"/><circle cx="389.36" cy="95.09" r="1.60" fill="#7f8e1c"/><circle cx="394.00" cy="84.98" r="1.60" fill="#7f8e1c"/><circle cx="398.64" cy="74.49" r="1.60" fill="#7f8e1c"/><circle cx="403.28" cy="67.82" r="1.60" fill="#7f8e1c"/><circle cx="407.91" cy="62.29" r="1.60" fill="#7f8e1c"/><circle cx="412.55" cy="55.99" r="1.60" fill="#7f8e1c"/><circle cx="417.19" cy="52.18" r="1.60" fill="#7f8e1c"/><circle cx="421.83" cy="48.37" r="1.60" fill="#7f8e1c"/><circle cx="426.46" cy="45.12" r="1.60" fill="#7f8e1c"/><circle cx="431.10" cy="42.07" r="1.60" fill="#7f8e1c"/><circle cx="435.74" cy="39.78" r="1.60" fill="#7f8e1c"/><circle cx="440.38" cy="37.88" r="1.60" fill="#7f8e1c"/><circle cx="445.01" cy="36.92" r="1.60" fill="#7f8e1c"/><circle cx="449.65" cy="35.97" r="1.60" fill="#7f8e1c"/><circle cx="454.29" cy="35.73" r="1.60" fill="#7f8e1c"/><circle cx="458.93" cy="35.49" r="1.60" fill="#7f8e1c"/><circle cx="463.56" cy="35.25" r="1.60" fill="#7f8e1c"/><circle cx="468.20" cy="35.02" r="1.60" fill="#7f8e1c"/><circle cx="472.84" cy="35.02" r="1.60" fill="#7f8e1c"/><circle cx="477.48" cy="35.02" r="1.60" fill="#7f8e1c"/><circle cx="482.11" cy="35.02" r="1.60" fill="#7f8e1c"/><circle cx="486.75" cy="35.02" r="1.60" fill="#7f8e1c"/><circle cx="491.39" cy="35.02" r="1.60" fill="#7f8e1c"/><circle cx="496.02" cy="35.02" r="1.60" fill="#7f8e1c"/><circle cx="500.66" cy="35.02" r="1.60" fill="#7f8e1c"/><circle cx="505.30" cy="35.02" r="1.60" fill="#7f8e1c"/><circle cx="509.94" cy="35.02" r="1.60" fill="#7f8e1c"/><circle cx="514.58" cy="35.02" r="1.60" fill="#7f8e1c"/><circle cx="519.21" cy="35.02" r="1.60" fill="#7f8e1c"/><circle cx="523.85" cy="35.02" r="1.60" fill="#7f8e1c"/><circle cx="528.49" cy="35.02" r="1.60" fill="#7f8e1c"/><circle cx="533.12" cy="35.02" r="1.60" fill="#7f8e1c"/><circle cx="537.76" cy="35.02" r="1.60" fill="#7f8e1c"/><circle cx="542.40" cy="35.02" r="1.60" fill="#7f8e1c"/>
<path d="M319.80,192.34L324.44,192.03L329.07,191.71L333.71,191.39L338.35,191.07L342.99,190.75L347.62,190.44L352.26,182.81L356.90,161.83L361.54,144.67L366.18,139.90L370.81,134.18L375.45,126.55L380.09,116.06L384.73,104.62L389.36,93.18L394.00,83.64L398.64,73.16L403.28,66.48L407.91,61.33L412.55,55.04L417.19,51.23L421.83,47.41L426.46,44.55L431.10,41.69L435.74,39.40L440.38,37.50L445.01,36.73L449.65,35.97L454.29,35.73L458.93,35.49L463.56,35.25L468.20,35.02L472.84,35.02L477.48,35.02L482.11,35.02L486.75,35.02L491.39,35.02L496.02,35.02L500.66,35.02L505.30,35.02L509.94,35.02L514.58,35.02L519.21,35.02L523.85,35.02L528.49,35.02L533.12,35.02L537.76,35.02L542.40,35.02" fill="none" stroke="#ff5c12" stroke-width="0.6"/>
<circle cx="319.80" cy="192.34" r="2.10" fill="#ff5c12"/><circle cx="324.44" cy="192.03" r="2.10" fill="#ff5c12"/><circle cx="329.07" cy="191.71" r="2.10" fill="#ff5c12"/><circle cx="333.71" cy="191.39" r="2.10" fill="#ff5c12"/><circle cx="338.35" cy="191.07" r="2.10" fill="#ff5c12"/><circle cx="342.99" cy="190.75" r="2.10" fill="#ff5c12"/><circle cx="347.62" cy="190.44" r="2.10" fill="#ff5c12"/><circle cx="352.26" cy="182.81" r="2.10" fill="#ff5c12"/><circle cx="356.90" cy="161.83" r="2.10" fill="#ff5c12"/><circle cx="361.54" cy="144.67" r="2.10" fill="#ff5c12"/><circle cx="366.18" cy="139.90" r="2.10" fill="#ff5c12"/><circle cx="370.81" cy="134.18" r="2.10" fill="#ff5c12"/><circle cx="375.45" cy="126.55" r="2.10" fill="#ff5c12"/><circle cx="380.09" cy="116.06" r="2.10" fill="#ff5c12"/><circle cx="384.73" cy="104.62" r="2.10" fill="#ff5c12"/><circle cx="389.36" cy="93.18" r="2.10" fill="#ff5c12"/><circle cx="394.00" cy="83.64" r="2.10" fill="#ff5c12"/><circle cx="398.64" cy="73.16" r="2.10" fill="#ff5c12"/><circle cx="403.28" cy="66.48" r="2.10" fill="#ff5c12"/><circle cx="407.91" cy="61.33" r="2.10" fill="#ff5c12"/><circle cx="412.55" cy="55.04" r="2.10" fill="#ff5c12"/><circle cx="417.19" cy="51.23" r="2.10" fill="#ff5c12"/><circle cx="421.83" cy="47.41" r="2.10" fill="#ff5c12"/><circle cx="426.46" cy="44.55" r="2.10" fill="#ff5c12"/><circle cx="431.10" cy="41.69" r="2.10" fill="#ff5c12"/><circle cx="435.74" cy="39.40" r="2.10" fill="#ff5c12"/><circle cx="440.38" cy="37.50" r="2.10" fill="#ff5c12"/><circle cx="445.01" cy="36.73" r="2.10" fill="#ff5c12"/><circle cx="449.65" cy="35.97" r="2.10" fill="#ff5c12"/><circle cx="454.29" cy="35.73" r="2.10" fill="#ff5c12"/><circle cx="458.93" cy="35.49" r="2.10" fill="#ff5c12"/><circle cx="463.56" cy="35.25" r="2.10" fill="#ff5c12"/><circle cx="468.20" cy="35.02" r="2.10" fill="#ff5c12"/><circle cx="472.84" cy="35.02" r="2.10" fill="#ff5c12"/><circle cx="477.48" cy="35.02" r="2.10" fill="#ff5c12"/><circle cx="482.11" cy="35.02" r="2.10" fill="#ff5c12"/><circle cx="486.75" cy="35.02" r="2.10" fill="#ff5c12"/><circle cx="491.39" cy="35.02" r="2.10" fill="#ff5c12"/><circle cx="496.02" cy="35.02" r="2.10" fill="#ff5c12"/><circle cx="500.66" cy="35.02" r="2.10" fill="#ff5c12"/><circle cx="505.30" cy="35.02" r="2.10" fill="#ff5c12"/><circle cx="509.94" cy="35.02" r="2.10" fill="#ff5c12"/><circle cx="514.58" cy="35.02" r="2.10" fill="#ff5c12"/><circle cx="519.21" cy="35.02" r="2.10" fill="#ff5c12"/><circle cx="523.85" cy="35.02" r="2.10" fill="#ff5c12"/><circle cx="528.49" cy="35.02" r="2.10" fill="#ff5c12"/><circle cx="533.12" cy="35.02" r="2.10" fill="#ff5c12"/><circle cx="537.76" cy="35.02" r="2.10" fill="#ff5c12"/><circle cx="542.40" cy="35.02" r="2.10" fill="#ff5c12"/>
<path d="M319.80,191.77L324.44,191.66L329.07,191.54L333.71,191.43L338.35,191.31L342.99,191.20L347.62,188.53L352.26,181.47L356.90,158.59L361.54,140.86L366.18,137.99L370.81,131.89L375.45,124.45L380.09,113.39L384.73,102.14L389.36,89.94L394.00,79.83L398.64,69.34L403.28,63.24L407.91,57.90L412.55,52.75L417.19,48.94L421.83,45.12L426.46,42.26L431.10,39.40L435.74,36.92L440.38,35.02L445.01,33.68L449.65,32.73L454.29,32.35L458.93,31.97L463.56,31.95L468.20,31.94L472.84,31.93L477.48,31.92L482.11,31.91L486.75,31.90L491.39,31.89L496.02,31.88L500.66,31.87L505.30,31.86L509.94,31.85L514.58,31.84L519.21,31.83L523.85,31.82L528.49,31.81L533.12,31.80L537.76,31.79L542.40,31.77" fill="none" stroke="#4a8edc" stroke-width="0.6"/>
<circle cx="319.80" cy="191.77" r="2.10" fill="#4a8edc"/><circle cx="319.35" cy="191.42" r="0.85" fill="#b4d4f4"/><circle cx="324.44" cy="191.66" r="2.10" fill="#4a8edc"/><circle cx="323.99" cy="191.31" r="0.85" fill="#b4d4f4"/><circle cx="329.07" cy="191.54" r="2.10" fill="#4a8edc"/><circle cx="328.62" cy="191.19" r="0.85" fill="#b4d4f4"/><circle cx="333.71" cy="191.43" r="2.10" fill="#4a8edc"/><circle cx="333.26" cy="191.08" r="0.85" fill="#b4d4f4"/><circle cx="338.35" cy="191.31" r="2.10" fill="#4a8edc"/><circle cx="337.90" cy="190.96" r="0.85" fill="#b4d4f4"/><circle cx="342.99" cy="191.20" r="2.10" fill="#4a8edc"/><circle cx="342.54" cy="190.85" r="0.85" fill="#b4d4f4"/><circle cx="347.62" cy="188.53" r="2.10" fill="#4a8edc"/><circle cx="347.18" cy="188.18" r="0.85" fill="#b4d4f4"/><circle cx="352.26" cy="181.47" r="2.10" fill="#4a8edc"/><circle cx="351.81" cy="181.12" r="0.85" fill="#b4d4f4"/><circle cx="356.90" cy="158.59" r="2.10" fill="#4a8edc"/><circle cx="356.45" cy="158.24" r="0.85" fill="#b4d4f4"/><circle cx="361.54" cy="140.86" r="2.10" fill="#4a8edc"/><circle cx="361.09" cy="140.51" r="0.85" fill="#b4d4f4"/><circle cx="366.18" cy="137.99" r="2.10" fill="#4a8edc"/><circle cx="365.73" cy="137.64" r="0.85" fill="#b4d4f4"/><circle cx="370.81" cy="131.89" r="2.10" fill="#4a8edc"/><circle cx="370.36" cy="131.54" r="0.85" fill="#b4d4f4"/><circle cx="375.45" cy="124.45" r="2.10" fill="#4a8edc"/><circle cx="375.00" cy="124.10" r="0.85" fill="#b4d4f4"/><circle cx="380.09" cy="113.39" r="2.10" fill="#4a8edc"/><circle cx="379.64" cy="113.04" r="0.85" fill="#b4d4f4"/><circle cx="384.73" cy="102.14" r="2.10" fill="#4a8edc"/><circle cx="384.28" cy="101.79" r="0.85" fill="#b4d4f4"/><circle cx="389.36" cy="89.94" r="2.10" fill="#4a8edc"/><circle cx="388.91" cy="89.59" r="0.85" fill="#b4d4f4"/><circle cx="394.00" cy="79.83" r="2.10" fill="#4a8edc"/><circle cx="393.55" cy="79.48" r="0.85" fill="#b4d4f4"/><circle cx="398.64" cy="69.34" r="2.10" fill="#4a8edc"/><circle cx="398.19" cy="68.99" r="0.85" fill="#b4d4f4"/><circle cx="403.28" cy="63.24" r="2.10" fill="#4a8edc"/><circle cx="402.83" cy="62.89" r="0.85" fill="#b4d4f4"/><circle cx="407.91" cy="57.90" r="2.10" fill="#4a8edc"/><circle cx="407.46" cy="57.55" r="0.85" fill="#b4d4f4"/><circle cx="412.55" cy="52.75" r="2.10" fill="#4a8edc"/><circle cx="412.10" cy="52.40" r="0.85" fill="#b4d4f4"/><circle cx="417.19" cy="48.94" r="2.10" fill="#4a8edc"/><circle cx="416.74" cy="48.59" r="0.85" fill="#b4d4f4"/><circle cx="421.83" cy="45.12" r="2.10" fill="#4a8edc"/><circle cx="421.38" cy="44.77" r="0.85" fill="#b4d4f4"/><circle cx="426.46" cy="42.26" r="2.10" fill="#4a8edc"/><circle cx="426.01" cy="41.91" r="0.85" fill="#b4d4f4"/><circle cx="431.10" cy="39.40" r="2.10" fill="#4a8edc"/><circle cx="430.65" cy="39.05" r="0.85" fill="#b4d4f4"/><circle cx="435.74" cy="36.92" r="2.10" fill="#4a8edc"/><circle cx="435.29" cy="36.57" r="0.85" fill="#b4d4f4"/><circle cx="440.38" cy="35.02" r="2.10" fill="#4a8edc"/><circle cx="439.93" cy="34.67" r="0.85" fill="#b4d4f4"/><circle cx="445.01" cy="33.68" r="2.10" fill="#4a8edc"/><circle cx="444.56" cy="33.33" r="0.85" fill="#b4d4f4"/><circle cx="449.65" cy="32.73" r="2.10" fill="#4a8edc"/><circle cx="449.20" cy="32.38" r="0.85" fill="#b4d4f4"/><circle cx="454.29" cy="32.35" r="2.10" fill="#4a8edc"/><circle cx="453.84" cy="32.00" r="0.85" fill="#b4d4f4"/><circle cx="458.93" cy="31.97" r="2.10" fill="#4a8edc"/><circle cx="458.48" cy="31.62" r="0.85" fill="#b4d4f4"/><circle cx="463.56" cy="31.95" r="2.10" fill="#4a8edc"/><circle cx="463.11" cy="31.60" r="0.85" fill="#b4d4f4"/><circle cx="468.20" cy="31.94" r="2.10" fill="#4a8edc"/><circle cx="467.75" cy="31.59" r="0.85" fill="#b4d4f4"/><circle cx="472.84" cy="31.93" r="2.10" fill="#4a8edc"/><circle cx="472.39" cy="31.58" r="0.85" fill="#b4d4f4"/><circle cx="477.48" cy="31.92" r="2.10" fill="#4a8edc"/><circle cx="477.03" cy="31.57" r="0.85" fill="#b4d4f4"/><circle cx="482.11" cy="31.91" r="2.10" fill="#4a8edc"/><circle cx="481.66" cy="31.56" r="0.85" fill="#b4d4f4"/><circle cx="486.75" cy="31.90" r="2.10" fill="#4a8edc"/><circle cx="486.30" cy="31.55" r="0.85" fill="#b4d4f4"/><circle cx="491.39" cy="31.89" r="2.10" fill="#4a8edc"/><circle cx="490.94" cy="31.54" r="0.85" fill="#b4d4f4"/><circle cx="496.02" cy="31.88" r="2.10" fill="#4a8edc"/><circle cx="495.57" cy="31.53" r="0.85" fill="#b4d4f4"/><circle cx="500.66" cy="31.87" r="2.10" fill="#4a8edc"/><circle cx="500.21" cy="31.52" r="0.85" fill="#b4d4f4"/><circle cx="505.30" cy="31.86" r="2.10" fill="#4a8edc"/><circle cx="504.85" cy="31.51" r="0.85" fill="#b4d4f4"/><circle cx="509.94" cy="31.85" r="2.10" fill="#4a8edc"/><circle cx="509.49" cy="31.50" r="0.85" fill="#b4d4f4"/><circle cx="514.58" cy="31.84" r="2.10" fill="#4a8edc"/><circle cx="514.12" cy="31.49" r="0.85" fill="#b4d4f4"/><circle cx="519.21" cy="31.83" r="2.10" fill="#4a8edc"/><circle cx="518.76" cy="31.48" r="0.85" fill="#b4d4f4"/><circle cx="523.85" cy="31.82" r="2.10" fill="#4a8edc"/><circle cx="523.40" cy="31.47" r="0.85" fill="#b4d4f4"/><circle cx="528.49" cy="31.81" r="2.10" fill="#4a8edc"/><circle cx="528.04" cy="31.46" r="0.85" fill="#b4d4f4"/><circle cx="533.12" cy="31.80" r="2.10" fill="#4a8edc"/><circle cx="532.67" cy="31.45" r="0.85" fill="#b4d4f4"/><circle cx="537.76" cy="31.79" r="2.10" fill="#4a8edc"/><circle cx="537.31" cy="31.44" r="0.85" fill="#b4d4f4"/><circle cx="542.40" cy="31.77" r="2.10" fill="#4a8edc"/><circle cx="541.95" cy="31.42" r="0.85" fill="#b4d4f4"/>
</svg>
</body></html>
